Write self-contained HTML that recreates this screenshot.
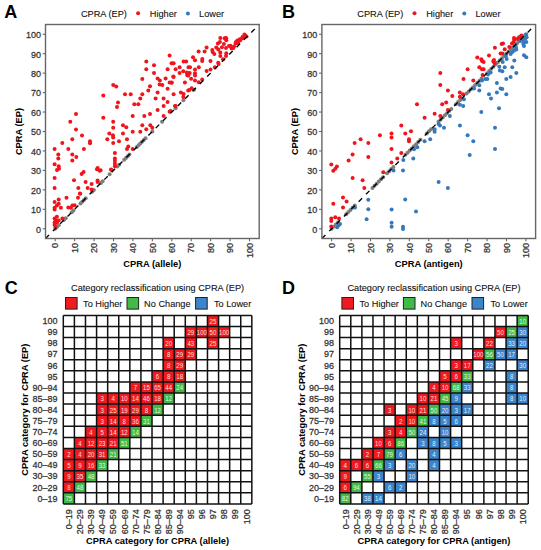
<!DOCTYPE html>
<html><head><meta charset="utf-8"><style>
html,body{margin:0;padding:0;background:#fff;}
body{width:541px;height:550px;overflow:hidden;}
svg{display:block;font-family:"Liberation Sans", sans-serif;}
</style></head><body>
<svg width="541" height="550" viewBox="0 0 541 550">
<rect width="541" height="550" fill="#fff"/>
<text transform="translate(80.9,16.8) scale(1,1.03)" font-size="9.2" fill="#111" stroke="#111" stroke-width="0.1">CPRA (EP)</text>
<circle cx="138.1" cy="13.2" r="2" fill="#f0141c"/>
<text transform="translate(149.8,16.8) scale(1,1.03)" font-size="9.2" fill="#111" stroke="#111" stroke-width="0.1">Higher</text>
<circle cx="187.9" cy="13.4" r="2" fill="#3479bd"/>
<text transform="translate(199.1,16.8) scale(1,1.03)" font-size="9.2" fill="#111" stroke="#111" stroke-width="0.1">Lower</text>
<clipPath id="clip0"><rect x="45.5" y="24.5" width="213.7" height="214"/></clipPath>
<g clip-path="url(#clip0)">
<circle cx="55.21" cy="228.77" r="2.0" fill="#7e7e7e"/>
<circle cx="56.96" cy="227.02" r="2.0" fill="#7e7e7e"/>
<circle cx="58.71" cy="225.27" r="2.0" fill="#7e7e7e"/>
<circle cx="63.96" cy="220.02" r="2.0" fill="#7e7e7e"/>
<circle cx="65.7" cy="218.27" r="2.0" fill="#7e7e7e"/>
<circle cx="71.73" cy="212.24" r="2.0" fill="#7e7e7e"/>
<circle cx="73.47" cy="210.48" r="2.0" fill="#7e7e7e"/>
<circle cx="80.47" cy="203.48" r="2.0" fill="#7e7e7e"/>
<circle cx="82.22" cy="201.73" r="2.0" fill="#7e7e7e"/>
<circle cx="83.97" cy="199.98" r="2.0" fill="#7e7e7e"/>
<circle cx="85.71" cy="198.23" r="2.0" fill="#7e7e7e"/>
<circle cx="92.12" cy="191.81" r="2.0" fill="#7e7e7e"/>
<circle cx="93.87" cy="190.06" r="2.0" fill="#7e7e7e"/>
<circle cx="100.87" cy="183.05" r="2.0" fill="#7e7e7e"/>
<circle cx="102.62" cy="181.3" r="2.0" fill="#7e7e7e"/>
<circle cx="109.61" cy="174.3" r="2.0" fill="#7e7e7e"/>
<circle cx="117.38" cy="166.52" r="2.0" fill="#7e7e7e"/>
<circle cx="119.13" cy="164.77" r="2.0" fill="#7e7e7e"/>
<circle cx="124.18" cy="159.71" r="2.0" fill="#7e7e7e"/>
<circle cx="125.93" cy="157.96" r="2.0" fill="#7e7e7e"/>
<circle cx="127.68" cy="156.21" r="2.0" fill="#7e7e7e"/>
<circle cx="129.42" cy="154.45" r="2.0" fill="#7e7e7e"/>
<circle cx="136.81" cy="147.06" r="2.0" fill="#7e7e7e"/>
<circle cx="138.56" cy="145.31" r="2.0" fill="#7e7e7e"/>
<circle cx="140.3" cy="143.56" r="2.0" fill="#7e7e7e"/>
<circle cx="142.05" cy="141.81" r="2.0" fill="#7e7e7e"/>
<circle cx="143.8" cy="140.06" r="2.0" fill="#7e7e7e"/>
<circle cx="145.55" cy="138.31" r="2.0" fill="#7e7e7e"/>
<circle cx="152.35" cy="131.5" r="2.0" fill="#7e7e7e"/>
<circle cx="162.06" cy="121.77" r="2.0" fill="#7e7e7e"/>
<circle cx="175.66" cy="108.15" r="2.0" fill="#7e7e7e"/>
<circle cx="183.43" cy="100.37" r="2.0" fill="#7e7e7e"/>
<circle cx="194.12" cy="89.67" r="2.0" fill="#7e7e7e"/>
<circle cx="113.2" cy="84.9" r="2.0" fill="#f0141c"/>
<circle cx="116.2" cy="86.6" r="2.0" fill="#f0141c"/>
<circle cx="103.3" cy="95.5" r="2.0" fill="#f0141c"/>
<circle cx="169.6" cy="55.6" r="2.0" fill="#f0141c"/>
<circle cx="146.3" cy="61.5" r="2.0" fill="#f0141c"/>
<circle cx="154" cy="65.3" r="2.0" fill="#f0141c"/>
<circle cx="171.6" cy="63.3" r="2.0" fill="#f0141c"/>
<circle cx="173.6" cy="63.3" r="2.0" fill="#f0141c"/>
<circle cx="183.6" cy="61.5" r="2.0" fill="#f0141c"/>
<circle cx="186.2" cy="61.5" r="2.0" fill="#f0141c"/>
<circle cx="146.3" cy="69.3" r="2.0" fill="#f0141c"/>
<circle cx="167.6" cy="69.3" r="2.0" fill="#f0141c"/>
<circle cx="175.6" cy="69.3" r="2.0" fill="#f0141c"/>
<circle cx="179.6" cy="67.3" r="2.0" fill="#f0141c"/>
<circle cx="188.5" cy="67.3" r="2.0" fill="#f0141c"/>
<circle cx="154" cy="73" r="2.0" fill="#f0141c"/>
<circle cx="179.6" cy="73" r="2.0" fill="#f0141c"/>
<circle cx="183.3" cy="71.3" r="2.0" fill="#f0141c"/>
<circle cx="186.9" cy="72.6" r="2.0" fill="#f0141c"/>
<circle cx="187.3" cy="75.3" r="2.0" fill="#f0141c"/>
<circle cx="142.3" cy="78.9" r="2.0" fill="#f0141c"/>
<circle cx="157.6" cy="78.6" r="2.0" fill="#f0141c"/>
<circle cx="159.9" cy="80.6" r="2.0" fill="#f0141c"/>
<circle cx="165.6" cy="78.6" r="2.0" fill="#f0141c"/>
<circle cx="173.6" cy="77" r="2.0" fill="#f0141c"/>
<circle cx="169.6" cy="82.6" r="2.0" fill="#f0141c"/>
<circle cx="171.6" cy="82.6" r="2.0" fill="#f0141c"/>
<circle cx="184.9" cy="82.6" r="2.0" fill="#f0141c"/>
<circle cx="159.6" cy="84.6" r="2.0" fill="#f0141c"/>
<circle cx="162.3" cy="85" r="2.0" fill="#f0141c"/>
<circle cx="150" cy="86.3" r="2.0" fill="#f0141c"/>
<circle cx="148.3" cy="90.6" r="2.0" fill="#f0141c"/>
<circle cx="167.6" cy="88.8" r="2.0" fill="#f0141c"/>
<circle cx="157.6" cy="92.6" r="2.0" fill="#f0141c"/>
<circle cx="125" cy="94.3" r="2.0" fill="#f0141c"/>
<circle cx="130.7" cy="94.3" r="2.0" fill="#f0141c"/>
<circle cx="142.3" cy="94.3" r="2.0" fill="#f0141c"/>
<circle cx="173.6" cy="94.3" r="2.0" fill="#f0141c"/>
<circle cx="180.9" cy="92.6" r="2.0" fill="#f0141c"/>
<circle cx="183.6" cy="93.9" r="2.0" fill="#f0141c"/>
<circle cx="188.2" cy="90.6" r="2.0" fill="#f0141c"/>
<circle cx="202.2" cy="61.1" r="2.0" fill="#f0141c"/>
<circle cx="210.5" cy="61.1" r="2.0" fill="#f0141c"/>
<circle cx="218.2" cy="62.8" r="2.0" fill="#f0141c"/>
<circle cx="190" cy="67.2" r="2.0" fill="#f0141c"/>
<circle cx="195" cy="69.4" r="2.0" fill="#f0141c"/>
<circle cx="198.8" cy="67.2" r="2.0" fill="#f0141c"/>
<circle cx="206.6" cy="71.1" r="2.0" fill="#f0141c"/>
<circle cx="210.5" cy="69.4" r="2.0" fill="#f0141c"/>
<circle cx="214.9" cy="67.2" r="2.0" fill="#f0141c"/>
<circle cx="173.3" cy="76.6" r="2.0" fill="#f0141c"/>
<circle cx="191.1" cy="78.8" r="2.0" fill="#f0141c"/>
<circle cx="195" cy="80.5" r="2.0" fill="#f0141c"/>
<circle cx="198.8" cy="82.2" r="2.0" fill="#f0141c"/>
<circle cx="202.2" cy="79.4" r="2.0" fill="#f0141c"/>
<circle cx="171.7" cy="82.7" r="2.0" fill="#f0141c"/>
<circle cx="189.4" cy="89.9" r="2.0" fill="#f0141c"/>
<circle cx="191.6" cy="88.3" r="2.0" fill="#f0141c"/>
<circle cx="183.3" cy="97.1" r="2.0" fill="#f0141c"/>
<circle cx="175" cy="106" r="2.0" fill="#f0141c"/>
<circle cx="170.6" cy="111" r="2.0" fill="#f0141c"/>
<circle cx="195" cy="73.3" r="2.0" fill="#f0141c"/>
<circle cx="195" cy="75.5" r="2.0" fill="#f0141c"/>
<circle cx="187.2" cy="73.3" r="2.0" fill="#f0141c"/>
<circle cx="188.3" cy="75.5" r="2.0" fill="#f0141c"/>
<circle cx="195" cy="60.3" r="2.0" fill="#f0141c"/>
<circle cx="218.6" cy="64" r="2.0" fill="#f0141c"/>
<circle cx="189.7" cy="73" r="2.0" fill="#f0141c"/>
<circle cx="220.3" cy="38" r="2.0" fill="#f0141c"/>
<circle cx="224.6" cy="38.3" r="2.0" fill="#f0141c"/>
<circle cx="219.9" cy="42" r="2.0" fill="#f0141c"/>
<circle cx="217.9" cy="43.6" r="2.0" fill="#f0141c"/>
<circle cx="223.9" cy="44" r="2.0" fill="#f0141c"/>
<circle cx="206.6" cy="47.6" r="2.0" fill="#f0141c"/>
<circle cx="216.3" cy="47.6" r="2.0" fill="#f0141c"/>
<circle cx="218.3" cy="49.6" r="2.0" fill="#f0141c"/>
<circle cx="221.9" cy="47.3" r="2.0" fill="#f0141c"/>
<circle cx="198.6" cy="51.6" r="2.0" fill="#f0141c"/>
<circle cx="204.6" cy="51.6" r="2.0" fill="#f0141c"/>
<circle cx="212.3" cy="50" r="2.0" fill="#f0141c"/>
<circle cx="212.6" cy="52" r="2.0" fill="#f0141c"/>
<circle cx="214.3" cy="54" r="2.0" fill="#f0141c"/>
<circle cx="220.3" cy="52.6" r="2.0" fill="#f0141c"/>
<circle cx="220.3" cy="56" r="2.0" fill="#f0141c"/>
<circle cx="193" cy="57.3" r="2.0" fill="#f0141c"/>
<circle cx="202.3" cy="59" r="2.0" fill="#f0141c"/>
<circle cx="223" cy="59.3" r="2.0" fill="#f0141c"/>
<circle cx="229" cy="46" r="2.0" fill="#f0141c"/>
<circle cx="231.5" cy="48.5" r="2.0" fill="#f0141c"/>
<circle cx="234" cy="46.5" r="2.0" fill="#f0141c"/>
<circle cx="236" cy="42" r="2.0" fill="#f0141c"/>
<circle cx="238" cy="43" r="2.0" fill="#f0141c"/>
<circle cx="240" cy="40.5" r="2.0" fill="#f0141c"/>
<circle cx="242" cy="38.5" r="2.0" fill="#f0141c"/>
<circle cx="243.5" cy="37.5" r="2.0" fill="#f0141c"/>
<circle cx="246.5" cy="36.5" r="2.0" fill="#f0141c"/>
<circle cx="230.5" cy="45.7" r="2.0" fill="#f0141c"/>
<circle cx="233.3" cy="48" r="2.0" fill="#f0141c"/>
<circle cx="235.6" cy="43.4" r="2.0" fill="#f0141c"/>
<circle cx="237.4" cy="40.6" r="2.0" fill="#f0141c"/>
<circle cx="239.7" cy="39.2" r="2.0" fill="#f0141c"/>
<circle cx="242.5" cy="36.9" r="2.0" fill="#f0141c"/>
<circle cx="244.4" cy="34.6" r="2.0" fill="#f0141c"/>
<circle cx="245.3" cy="35.5" r="2.0" fill="#f0141c"/>
<circle cx="226.3" cy="38.6" r="2.0" fill="#f0141c"/>
<circle cx="226" cy="48" r="2.0" fill="#f0141c"/>
<circle cx="226.3" cy="53.3" r="2.0" fill="#f0141c"/>
<circle cx="226" cy="56" r="2.0" fill="#f0141c"/>
<circle cx="225.9" cy="37.9" r="2.0" fill="#f0141c"/>
<circle cx="226.3" cy="40.2" r="2.0" fill="#f0141c"/>
<circle cx="140.3" cy="98.4" r="2.0" fill="#f0141c"/>
<circle cx="155.6" cy="98.4" r="2.0" fill="#f0141c"/>
<circle cx="163.6" cy="98.4" r="2.0" fill="#f0141c"/>
<circle cx="118" cy="102.5" r="2.0" fill="#f0141c"/>
<circle cx="117" cy="107" r="2.0" fill="#f0141c"/>
<circle cx="134.3" cy="104.3" r="2.0" fill="#f0141c"/>
<circle cx="138.3" cy="104.3" r="2.0" fill="#f0141c"/>
<circle cx="167.6" cy="102" r="2.0" fill="#f0141c"/>
<circle cx="163.6" cy="106" r="2.0" fill="#f0141c"/>
<circle cx="175.6" cy="106" r="2.0" fill="#f0141c"/>
<circle cx="157.6" cy="110" r="2.0" fill="#f0141c"/>
<circle cx="169.6" cy="111.7" r="2.0" fill="#f0141c"/>
<circle cx="132.7" cy="116" r="2.0" fill="#f0141c"/>
<circle cx="144.3" cy="116" r="2.0" fill="#f0141c"/>
<circle cx="150" cy="114" r="2.0" fill="#f0141c"/>
<circle cx="163.6" cy="116" r="2.0" fill="#f0141c"/>
<circle cx="123" cy="125.3" r="2.0" fill="#f0141c"/>
<circle cx="126.3" cy="127.3" r="2.0" fill="#f0141c"/>
<circle cx="142.3" cy="125.3" r="2.0" fill="#f0141c"/>
<circle cx="150.3" cy="125.3" r="2.0" fill="#f0141c"/>
<circle cx="152.3" cy="127.7" r="2.0" fill="#f0141c"/>
<circle cx="146.3" cy="129.3" r="2.0" fill="#f0141c"/>
<circle cx="132.7" cy="131.7" r="2.0" fill="#f0141c"/>
<circle cx="140.3" cy="131.7" r="2.0" fill="#f0141c"/>
<circle cx="123" cy="133.5" r="2.0" fill="#f0141c"/>
<circle cx="127" cy="139.3" r="2.0" fill="#f0141c"/>
<circle cx="119" cy="141.3" r="2.0" fill="#f0141c"/>
<circle cx="128.3" cy="146.6" r="2.0" fill="#f0141c"/>
<circle cx="127" cy="149" r="2.0" fill="#f0141c"/>
<circle cx="132.7" cy="149" r="2.0" fill="#f0141c"/>
<circle cx="112.9" cy="135.2" r="2.0" fill="#f0141c"/>
<circle cx="114.9" cy="158.5" r="2.0" fill="#f0141c"/>
<circle cx="114.9" cy="161.1" r="2.0" fill="#f0141c"/>
<circle cx="114.9" cy="163.7" r="2.0" fill="#f0141c"/>
<circle cx="114.9" cy="166.3" r="2.0" fill="#f0141c"/>
<circle cx="111" cy="169.5" r="2.0" fill="#f0141c"/>
<circle cx="100.6" cy="170.2" r="2.0" fill="#f0141c"/>
<circle cx="76" cy="114" r="2.0" fill="#f0141c"/>
<circle cx="103.3" cy="117.7" r="2.0" fill="#f0141c"/>
<circle cx="70.3" cy="121.7" r="2.0" fill="#f0141c"/>
<circle cx="113.2" cy="121.7" r="2.0" fill="#f0141c"/>
<circle cx="76" cy="129.6" r="2.0" fill="#f0141c"/>
<circle cx="113.2" cy="127.7" r="2.0" fill="#f0141c"/>
<circle cx="82" cy="135.4" r="2.0" fill="#f0141c"/>
<circle cx="109.3" cy="133.5" r="2.0" fill="#f0141c"/>
<circle cx="113.2" cy="137.5" r="2.0" fill="#f0141c"/>
<circle cx="107.3" cy="139.3" r="2.0" fill="#f0141c"/>
<circle cx="72.3" cy="139.3" r="2.0" fill="#f0141c"/>
<circle cx="62.3" cy="143" r="2.0" fill="#f0141c"/>
<circle cx="90" cy="141.3" r="2.0" fill="#f0141c"/>
<circle cx="90" cy="143.3" r="2.0" fill="#f0141c"/>
<circle cx="113.2" cy="143" r="2.0" fill="#f0141c"/>
<circle cx="54.6" cy="149" r="2.0" fill="#f0141c"/>
<circle cx="68.3" cy="149" r="2.0" fill="#f0141c"/>
<circle cx="83.9" cy="149" r="2.0" fill="#f0141c"/>
<circle cx="114.9" cy="153" r="2.0" fill="#f0141c"/>
<circle cx="58.3" cy="154.6" r="2.0" fill="#f0141c"/>
<circle cx="58.3" cy="158.6" r="2.0" fill="#f0141c"/>
<circle cx="72.3" cy="154.6" r="2.0" fill="#f0141c"/>
<circle cx="76.3" cy="157" r="2.0" fill="#f0141c"/>
<circle cx="72.3" cy="160.6" r="2.0" fill="#f0141c"/>
<circle cx="54.6" cy="164.3" r="2.0" fill="#f0141c"/>
<circle cx="58.7" cy="166.2" r="2.0" fill="#f0141c"/>
<circle cx="97.6" cy="167.9" r="2.0" fill="#f0141c"/>
<circle cx="57" cy="170" r="2.0" fill="#f0141c"/>
<circle cx="59" cy="168.7" r="2.0" fill="#f0141c"/>
<circle cx="97" cy="169.3" r="2.0" fill="#f0141c"/>
<circle cx="99.6" cy="170.7" r="2.0" fill="#f0141c"/>
<circle cx="111.6" cy="170" r="2.0" fill="#f0141c"/>
<circle cx="83.6" cy="172" r="2.0" fill="#f0141c"/>
<circle cx="81.6" cy="174" r="2.0" fill="#f0141c"/>
<circle cx="54.6" cy="178" r="2.0" fill="#f0141c"/>
<circle cx="74" cy="180.3" r="2.0" fill="#f0141c"/>
<circle cx="85.6" cy="182" r="2.0" fill="#f0141c"/>
<circle cx="97.6" cy="180.6" r="2.0" fill="#f0141c"/>
<circle cx="97.6" cy="182" r="2.0" fill="#f0141c"/>
<circle cx="91.6" cy="184" r="2.0" fill="#f0141c"/>
<circle cx="54.6" cy="188" r="2.0" fill="#f0141c"/>
<circle cx="78.3" cy="188" r="2.0" fill="#f0141c"/>
<circle cx="87.6" cy="188" r="2.0" fill="#f0141c"/>
<circle cx="91.6" cy="189.6" r="2.0" fill="#f0141c"/>
<circle cx="79.9" cy="193.6" r="2.0" fill="#f0141c"/>
<circle cx="80.2" cy="193.7" r="2.0" fill="#f0141c"/>
<circle cx="78" cy="197.8" r="2.0" fill="#f0141c"/>
<circle cx="66.5" cy="197.8" r="2.0" fill="#f0141c"/>
<circle cx="58.7" cy="199.6" r="2.0" fill="#f0141c"/>
<circle cx="54.6" cy="201.9" r="2.0" fill="#f0141c"/>
<circle cx="58.7" cy="203.7" r="2.0" fill="#f0141c"/>
<circle cx="56.9" cy="205.6" r="2.0" fill="#f0141c"/>
<circle cx="54.6" cy="207.8" r="2.0" fill="#f0141c"/>
<circle cx="54.6" cy="209.6" r="2.0" fill="#f0141c"/>
<circle cx="60.9" cy="207.8" r="2.0" fill="#f0141c"/>
<circle cx="68.3" cy="207.4" r="2.0" fill="#f0141c"/>
<circle cx="72.4" cy="205.6" r="2.0" fill="#f0141c"/>
<circle cx="74.6" cy="205.2" r="2.0" fill="#f0141c"/>
<circle cx="70.9" cy="207.8" r="2.0" fill="#f0141c"/>
<circle cx="56.9" cy="216.7" r="2.0" fill="#f0141c"/>
<circle cx="54.6" cy="218.5" r="2.0" fill="#f0141c"/>
<circle cx="62.4" cy="218.5" r="2.0" fill="#f0141c"/>
<circle cx="55.7" cy="220.4" r="2.0" fill="#f0141c"/>
<circle cx="54.6" cy="222.6" r="2.0" fill="#f0141c"/>
<circle cx="56.9" cy="222.6" r="2.0" fill="#f0141c"/>
<circle cx="54.6" cy="224.8" r="2.0" fill="#f0141c"/>
<circle cx="55.4" cy="226.7" r="2.0" fill="#f0141c"/>
<circle cx="58.7" cy="220.4" r="2.0" fill="#f0141c"/>
<line x1="45.5" y1="238.5" x2="259.2" y2="24.5" stroke="#000" stroke-width="1.35" stroke-dasharray="4.9 5.5"/>
</g>
<rect x="45.5" y="24.5" width="213.7" height="214" fill="none" stroke="#666666" stroke-width="1.4"/>
<line x1="42.7" y1="228.77" x2="45.5" y2="228.77" stroke="#666666" stroke-width="1.1"/>
<text transform="translate(40.9,232.62) scale(1,1.03)" font-size="9.0" text-anchor="end" fill="#333333" stroke="#333333" stroke-width="0.25">0</text>
<line x1="55.21" y1="238.5" x2="55.21" y2="241.3" stroke="#666666" stroke-width="1.1"/>
<text transform="translate(58.46,243) rotate(-90) scale(1,1.03)" font-size="9.0" text-anchor="end" fill="#333333" stroke="#333333" stroke-width="0.25">0</text>
<line x1="42.7" y1="209.32" x2="45.5" y2="209.32" stroke="#666666" stroke-width="1.1"/>
<text transform="translate(40.9,213.17) scale(1,1.03)" font-size="9.0" text-anchor="end" fill="#333333" stroke="#333333" stroke-width="0.25">10</text>
<line x1="74.64" y1="238.5" x2="74.64" y2="241.3" stroke="#666666" stroke-width="1.1"/>
<text transform="translate(77.89,243) rotate(-90) scale(1,1.03)" font-size="9.0" text-anchor="end" fill="#333333" stroke="#333333" stroke-width="0.25">10</text>
<line x1="42.7" y1="189.86" x2="45.5" y2="189.86" stroke="#666666" stroke-width="1.1"/>
<text transform="translate(40.9,193.71) scale(1,1.03)" font-size="9.0" text-anchor="end" fill="#333333" stroke="#333333" stroke-width="0.25">20</text>
<line x1="94.07" y1="238.5" x2="94.07" y2="241.3" stroke="#666666" stroke-width="1.1"/>
<text transform="translate(97.32,243) rotate(-90) scale(1,1.03)" font-size="9.0" text-anchor="end" fill="#333333" stroke="#333333" stroke-width="0.25">20</text>
<line x1="42.7" y1="170.41" x2="45.5" y2="170.41" stroke="#666666" stroke-width="1.1"/>
<text transform="translate(40.9,174.26) scale(1,1.03)" font-size="9.0" text-anchor="end" fill="#333333" stroke="#333333" stroke-width="0.25">30</text>
<line x1="113.5" y1="238.5" x2="113.5" y2="241.3" stroke="#666666" stroke-width="1.1"/>
<text transform="translate(116.75,243) rotate(-90) scale(1,1.03)" font-size="9.0" text-anchor="end" fill="#333333" stroke="#333333" stroke-width="0.25">30</text>
<line x1="42.7" y1="150.95" x2="45.5" y2="150.95" stroke="#666666" stroke-width="1.1"/>
<text transform="translate(40.9,154.8) scale(1,1.03)" font-size="9.0" text-anchor="end" fill="#333333" stroke="#333333" stroke-width="0.25">40</text>
<line x1="132.92" y1="238.5" x2="132.92" y2="241.3" stroke="#666666" stroke-width="1.1"/>
<text transform="translate(136.17,243) rotate(-90) scale(1,1.03)" font-size="9.0" text-anchor="end" fill="#333333" stroke="#333333" stroke-width="0.25">40</text>
<line x1="42.7" y1="131.5" x2="45.5" y2="131.5" stroke="#666666" stroke-width="1.1"/>
<text transform="translate(40.9,135.35) scale(1,1.03)" font-size="9.0" text-anchor="end" fill="#333333" stroke="#333333" stroke-width="0.25">50</text>
<line x1="152.35" y1="238.5" x2="152.35" y2="241.3" stroke="#666666" stroke-width="1.1"/>
<text transform="translate(155.6,243) rotate(-90) scale(1,1.03)" font-size="9.0" text-anchor="end" fill="#333333" stroke="#333333" stroke-width="0.25">50</text>
<line x1="42.7" y1="112.05" x2="45.5" y2="112.05" stroke="#666666" stroke-width="1.1"/>
<text transform="translate(40.9,115.9) scale(1,1.03)" font-size="9.0" text-anchor="end" fill="#333333" stroke="#333333" stroke-width="0.25">60</text>
<line x1="171.78" y1="238.5" x2="171.78" y2="241.3" stroke="#666666" stroke-width="1.1"/>
<text transform="translate(175.03,243) rotate(-90) scale(1,1.03)" font-size="9.0" text-anchor="end" fill="#333333" stroke="#333333" stroke-width="0.25">60</text>
<line x1="42.7" y1="92.59" x2="45.5" y2="92.59" stroke="#666666" stroke-width="1.1"/>
<text transform="translate(40.9,96.44) scale(1,1.03)" font-size="9.0" text-anchor="end" fill="#333333" stroke="#333333" stroke-width="0.25">70</text>
<line x1="191.2" y1="238.5" x2="191.2" y2="241.3" stroke="#666666" stroke-width="1.1"/>
<text transform="translate(194.45,243) rotate(-90) scale(1,1.03)" font-size="9.0" text-anchor="end" fill="#333333" stroke="#333333" stroke-width="0.25">70</text>
<line x1="42.7" y1="73.14" x2="45.5" y2="73.14" stroke="#666666" stroke-width="1.1"/>
<text transform="translate(40.9,76.99) scale(1,1.03)" font-size="9.0" text-anchor="end" fill="#333333" stroke="#333333" stroke-width="0.25">80</text>
<line x1="210.63" y1="238.5" x2="210.63" y2="241.3" stroke="#666666" stroke-width="1.1"/>
<text transform="translate(213.88,243) rotate(-90) scale(1,1.03)" font-size="9.0" text-anchor="end" fill="#333333" stroke="#333333" stroke-width="0.25">80</text>
<line x1="42.7" y1="53.68" x2="45.5" y2="53.68" stroke="#666666" stroke-width="1.1"/>
<text transform="translate(40.9,57.53) scale(1,1.03)" font-size="9.0" text-anchor="end" fill="#333333" stroke="#333333" stroke-width="0.25">90</text>
<line x1="230.06" y1="238.5" x2="230.06" y2="241.3" stroke="#666666" stroke-width="1.1"/>
<text transform="translate(233.31,243) rotate(-90) scale(1,1.03)" font-size="9.0" text-anchor="end" fill="#333333" stroke="#333333" stroke-width="0.25">90</text>
<line x1="42.7" y1="34.23" x2="45.5" y2="34.23" stroke="#666666" stroke-width="1.1"/>
<text transform="translate(40.9,38.08) scale(1,1.03)" font-size="9.0" text-anchor="end" fill="#333333" stroke="#333333" stroke-width="0.25">100</text>
<line x1="249.49" y1="238.5" x2="249.49" y2="241.3" stroke="#666666" stroke-width="1.1"/>
<text transform="translate(252.74,243) rotate(-90) scale(1,1.03)" font-size="9.0" text-anchor="end" fill="#333333" stroke="#333333" stroke-width="0.25">100</text>
<text transform="translate(152.35,267.2)" font-size="9.3" text-anchor="middle" font-weight="bold" fill="#000">CPRA (allele)</text>
<text transform="translate(21.8,131.5) rotate(-90)" font-size="9.3" text-anchor="middle" font-weight="bold" fill="#000">CPRA (EP)</text>
<text transform="translate(357.3,16.8) scale(1,1.03)" font-size="9.2" fill="#111" stroke="#111" stroke-width="0.1">CPRA (EP)</text>
<circle cx="414.5" cy="13.2" r="2" fill="#f0141c"/>
<text transform="translate(426.2,16.8) scale(1,1.03)" font-size="9.2" fill="#111" stroke="#111" stroke-width="0.1">Higher</text>
<circle cx="464.3" cy="13.4" r="2" fill="#3479bd"/>
<text transform="translate(475.5,16.8) scale(1,1.03)" font-size="9.2" fill="#111" stroke="#111" stroke-width="0.1">Lower</text>
<clipPath id="clip276"><rect x="321.9" y="24.5" width="213.7" height="214"/></clipPath>
<g clip-path="url(#clip276)">
<circle cx="331.61" cy="228.77" r="2.0" fill="#7e7e7e"/>
<circle cx="333.75" cy="226.63" r="2.0" fill="#7e7e7e"/>
<circle cx="335.89" cy="224.49" r="2.0" fill="#7e7e7e"/>
<circle cx="338.02" cy="222.35" r="2.0" fill="#7e7e7e"/>
<circle cx="346.18" cy="214.18" r="2.0" fill="#7e7e7e"/>
<circle cx="348.32" cy="212.04" r="2.0" fill="#7e7e7e"/>
<circle cx="350.46" cy="209.9" r="2.0" fill="#7e7e7e"/>
<circle cx="352.59" cy="207.76" r="2.0" fill="#7e7e7e"/>
<circle cx="354.73" cy="205.62" r="2.0" fill="#7e7e7e"/>
<circle cx="372.41" cy="187.92" r="2.0" fill="#7e7e7e"/>
<circle cx="374.55" cy="185.78" r="2.0" fill="#7e7e7e"/>
<circle cx="376.68" cy="183.64" r="2.0" fill="#7e7e7e"/>
<circle cx="378.82" cy="181.5" r="2.0" fill="#7e7e7e"/>
<circle cx="380.96" cy="179.36" r="2.0" fill="#7e7e7e"/>
<circle cx="383.1" cy="177.22" r="2.0" fill="#7e7e7e"/>
<circle cx="386.98" cy="173.33" r="2.0" fill="#7e7e7e"/>
<circle cx="389.12" cy="171.19" r="2.0" fill="#7e7e7e"/>
<circle cx="391.25" cy="169.05" r="2.0" fill="#7e7e7e"/>
<circle cx="393.39" cy="166.91" r="2.0" fill="#7e7e7e"/>
<circle cx="405.44" cy="154.84" r="2.0" fill="#7e7e7e"/>
<circle cx="407.57" cy="152.7" r="2.0" fill="#7e7e7e"/>
<circle cx="409.71" cy="150.56" r="2.0" fill="#7e7e7e"/>
<circle cx="411.85" cy="148.42" r="2.0" fill="#7e7e7e"/>
<circle cx="413.98" cy="146.28" r="2.0" fill="#7e7e7e"/>
<circle cx="416.12" cy="144.14" r="2.0" fill="#7e7e7e"/>
<circle cx="418.26" cy="142" r="2.0" fill="#7e7e7e"/>
<circle cx="420.39" cy="139.86" r="2.0" fill="#7e7e7e"/>
<circle cx="426.81" cy="133.44" r="2.0" fill="#7e7e7e"/>
<circle cx="428.94" cy="131.3" r="2.0" fill="#7e7e7e"/>
<circle cx="431.08" cy="129.16" r="2.0" fill="#7e7e7e"/>
<circle cx="438.46" cy="121.77" r="2.0" fill="#7e7e7e"/>
<circle cx="440.6" cy="119.63" r="2.0" fill="#7e7e7e"/>
<circle cx="442.74" cy="117.49" r="2.0" fill="#7e7e7e"/>
<circle cx="444.87" cy="115.35" r="2.0" fill="#7e7e7e"/>
<circle cx="447.01" cy="113.21" r="2.0" fill="#7e7e7e"/>
<circle cx="449.15" cy="111.07" r="2.0" fill="#7e7e7e"/>
<circle cx="451.28" cy="108.93" r="2.0" fill="#7e7e7e"/>
<circle cx="455.95" cy="104.26" r="2.0" fill="#7e7e7e"/>
<circle cx="458.08" cy="102.12" r="2.0" fill="#7e7e7e"/>
<circle cx="460.22" cy="99.98" r="2.0" fill="#7e7e7e"/>
<circle cx="466.63" cy="93.56" r="2.0" fill="#7e7e7e"/>
<circle cx="468.77" cy="91.42" r="2.0" fill="#7e7e7e"/>
<circle cx="470.91" cy="89.28" r="2.0" fill="#7e7e7e"/>
<circle cx="473.04" cy="87.14" r="2.0" fill="#7e7e7e"/>
<circle cx="475.18" cy="85" r="2.0" fill="#7e7e7e"/>
<circle cx="477.32" cy="82.86" r="2.0" fill="#7e7e7e"/>
<circle cx="479.45" cy="80.72" r="2.0" fill="#7e7e7e"/>
<circle cx="481.59" cy="78.58" r="2.0" fill="#7e7e7e"/>
<circle cx="487.03" cy="73.13" r="2.0" fill="#7e7e7e"/>
<circle cx="489.17" cy="70.99" r="2.0" fill="#7e7e7e"/>
<circle cx="491.3" cy="68.85" r="2.0" fill="#7e7e7e"/>
<circle cx="493.44" cy="66.71" r="2.0" fill="#7e7e7e"/>
<circle cx="495.58" cy="64.57" r="2.0" fill="#7e7e7e"/>
<circle cx="497.71" cy="62.43" r="2.0" fill="#7e7e7e"/>
<circle cx="499.85" cy="60.29" r="2.0" fill="#7e7e7e"/>
<circle cx="501.99" cy="58.15" r="2.0" fill="#7e7e7e"/>
<circle cx="504.13" cy="56.01" r="2.0" fill="#7e7e7e"/>
<circle cx="506.26" cy="53.87" r="2.0" fill="#7e7e7e"/>
<circle cx="508.4" cy="51.73" r="2.0" fill="#7e7e7e"/>
<circle cx="510.54" cy="49.59" r="2.0" fill="#7e7e7e"/>
<circle cx="512.67" cy="47.45" r="2.0" fill="#7e7e7e"/>
<circle cx="514.81" cy="45.31" r="2.0" fill="#7e7e7e"/>
<circle cx="516.95" cy="43.17" r="2.0" fill="#7e7e7e"/>
<circle cx="519.08" cy="41.03" r="2.0" fill="#7e7e7e"/>
<circle cx="521.22" cy="38.89" r="2.0" fill="#7e7e7e"/>
<circle cx="523.36" cy="36.75" r="2.0" fill="#7e7e7e"/>
<circle cx="525.49" cy="34.61" r="2.0" fill="#7e7e7e"/>
<circle cx="526.3" cy="34.6" r="2.0" fill="#3479bd"/>
<circle cx="526.6" cy="37.3" r="2.0" fill="#3479bd"/>
<circle cx="525.3" cy="38.6" r="2.0" fill="#3479bd"/>
<circle cx="522.6" cy="40" r="2.0" fill="#3479bd"/>
<circle cx="520.3" cy="41" r="2.0" fill="#3479bd"/>
<circle cx="524" cy="42" r="2.0" fill="#3479bd"/>
<circle cx="526.3" cy="42" r="2.0" fill="#3479bd"/>
<circle cx="523.3" cy="44" r="2.0" fill="#3479bd"/>
<circle cx="524" cy="46" r="2.0" fill="#3479bd"/>
<circle cx="516" cy="47" r="2.0" fill="#3479bd"/>
<circle cx="516.3" cy="49.6" r="2.0" fill="#3479bd"/>
<circle cx="514" cy="50.6" r="2.0" fill="#3479bd"/>
<circle cx="512.3" cy="52" r="2.0" fill="#3479bd"/>
<circle cx="510.6" cy="54" r="2.0" fill="#3479bd"/>
<circle cx="524" cy="55.3" r="2.0" fill="#3479bd"/>
<circle cx="526.3" cy="57.3" r="2.0" fill="#3479bd"/>
<circle cx="506" cy="56" r="2.0" fill="#3479bd"/>
<circle cx="506.7" cy="59" r="2.0" fill="#3479bd"/>
<circle cx="514.3" cy="60.5" r="2.0" fill="#3479bd"/>
<circle cx="499.3" cy="66.7" r="2.0" fill="#3479bd"/>
<circle cx="499.9" cy="70.6" r="2.0" fill="#3479bd"/>
<circle cx="490.6" cy="72.6" r="2.0" fill="#3479bd"/>
<circle cx="488" cy="74.6" r="2.0" fill="#3479bd"/>
<circle cx="485.3" cy="79" r="2.0" fill="#3479bd"/>
<circle cx="487.3" cy="79" r="2.0" fill="#3479bd"/>
<circle cx="482" cy="80.6" r="2.0" fill="#3479bd"/>
<circle cx="479.3" cy="85.3" r="2.0" fill="#3479bd"/>
<circle cx="474" cy="88.6" r="2.0" fill="#3479bd"/>
<circle cx="479.3" cy="90.6" r="2.0" fill="#3479bd"/>
<circle cx="496.9" cy="83" r="2.0" fill="#3479bd"/>
<circle cx="500.6" cy="88.6" r="2.0" fill="#3479bd"/>
<circle cx="496.9" cy="92.6" r="2.0" fill="#3479bd"/>
<circle cx="489" cy="94.3" r="2.0" fill="#3479bd"/>
<circle cx="502.7" cy="62" r="2.0" fill="#3479bd"/>
<circle cx="504.7" cy="67.3" r="2.0" fill="#3479bd"/>
<circle cx="512.3" cy="67.3" r="2.0" fill="#3479bd"/>
<circle cx="516.3" cy="73" r="2.0" fill="#3479bd"/>
<circle cx="510.6" cy="77" r="2.0" fill="#3479bd"/>
<circle cx="506.3" cy="79" r="2.0" fill="#3479bd"/>
<circle cx="502.3" cy="71.3" r="2.0" fill="#3479bd"/>
<circle cx="502.3" cy="89" r="2.0" fill="#3479bd"/>
<circle cx="506.3" cy="94.3" r="2.0" fill="#3479bd"/>
<circle cx="459.9" cy="104.7" r="2.0" fill="#3479bd"/>
<circle cx="463.2" cy="106" r="2.0" fill="#3479bd"/>
<circle cx="463.9" cy="99.3" r="2.0" fill="#3479bd"/>
<circle cx="449.9" cy="116" r="2.0" fill="#3479bd"/>
<circle cx="459.9" cy="125.6" r="2.0" fill="#3479bd"/>
<circle cx="438.6" cy="124" r="2.0" fill="#3479bd"/>
<circle cx="440" cy="125.6" r="2.0" fill="#3479bd"/>
<circle cx="444" cy="127.7" r="2.0" fill="#3479bd"/>
<circle cx="434.6" cy="129.3" r="2.0" fill="#3479bd"/>
<circle cx="434.6" cy="131.7" r="2.0" fill="#3479bd"/>
<circle cx="430.2" cy="139.3" r="2.0" fill="#3479bd"/>
<circle cx="424.6" cy="141.3" r="2.0" fill="#3479bd"/>
<circle cx="417.3" cy="147.3" r="2.0" fill="#3479bd"/>
<circle cx="414" cy="149.3" r="2.0" fill="#3479bd"/>
<circle cx="413.3" cy="158.6" r="2.0" fill="#3479bd"/>
<circle cx="403.3" cy="160" r="2.0" fill="#3479bd"/>
<circle cx="491" cy="98.4" r="2.0" fill="#3479bd"/>
<circle cx="499" cy="108.3" r="2.0" fill="#3479bd"/>
<circle cx="481.3" cy="112" r="2.0" fill="#3479bd"/>
<circle cx="495" cy="127.7" r="2.0" fill="#3479bd"/>
<circle cx="467.6" cy="135.3" r="2.0" fill="#3479bd"/>
<circle cx="473.3" cy="141.3" r="2.0" fill="#3479bd"/>
<circle cx="495" cy="149" r="2.0" fill="#3479bd"/>
<circle cx="469.7" cy="154.9" r="2.0" fill="#3479bd"/>
<circle cx="368.3" cy="199.7" r="2.0" fill="#3479bd"/>
<circle cx="368.3" cy="209.3" r="2.0" fill="#3479bd"/>
<circle cx="355" cy="207.4" r="2.0" fill="#3479bd"/>
<circle cx="366.6" cy="219.3" r="2.0" fill="#3479bd"/>
<circle cx="391.6" cy="209.4" r="2.0" fill="#3479bd"/>
<circle cx="391.6" cy="222.8" r="2.0" fill="#3479bd"/>
<circle cx="391.6" cy="226.8" r="2.0" fill="#3479bd"/>
<circle cx="338.6" cy="225.2" r="2.0" fill="#3479bd"/>
<circle cx="337.2" cy="227.2" r="2.0" fill="#3479bd"/>
<circle cx="340" cy="224" r="2.0" fill="#3479bd"/>
<circle cx="393.5" cy="170.5" r="2.0" fill="#3479bd"/>
<circle cx="403" cy="170.5" r="2.0" fill="#3479bd"/>
<circle cx="438.6" cy="182" r="2.0" fill="#3479bd"/>
<circle cx="447.9" cy="188" r="2.0" fill="#3479bd"/>
<circle cx="405.2" cy="199.6" r="2.0" fill="#3479bd"/>
<circle cx="416" cy="211.4" r="2.0" fill="#3479bd"/>
<circle cx="403" cy="226.8" r="2.0" fill="#3479bd"/>
<circle cx="403" cy="229.1" r="2.0" fill="#3479bd"/>
<circle cx="440.3" cy="73" r="2.0" fill="#f0141c"/>
<circle cx="440.3" cy="85" r="2.0" fill="#f0141c"/>
<circle cx="447.9" cy="90.6" r="2.0" fill="#f0141c"/>
<circle cx="452.3" cy="96" r="2.0" fill="#f0141c"/>
<circle cx="463.5" cy="78.9" r="2.0" fill="#f0141c"/>
<circle cx="467.6" cy="69.2" r="2.0" fill="#f0141c"/>
<circle cx="459.8" cy="92.6" r="2.0" fill="#f0141c"/>
<circle cx="463" cy="94.3" r="2.0" fill="#f0141c"/>
<circle cx="459.9" cy="96.7" r="2.0" fill="#f0141c"/>
<circle cx="514" cy="38" r="2.0" fill="#f0141c"/>
<circle cx="514.3" cy="39.6" r="2.0" fill="#f0141c"/>
<circle cx="517.3" cy="39" r="2.0" fill="#f0141c"/>
<circle cx="519" cy="37.3" r="2.0" fill="#f0141c"/>
<circle cx="521.3" cy="35.6" r="2.0" fill="#f0141c"/>
<circle cx="512" cy="43.6" r="2.0" fill="#f0141c"/>
<circle cx="513.6" cy="42" r="2.0" fill="#f0141c"/>
<circle cx="509.3" cy="47" r="2.0" fill="#f0141c"/>
<circle cx="503" cy="43.6" r="2.0" fill="#f0141c"/>
<circle cx="504.7" cy="49.3" r="2.0" fill="#f0141c"/>
<circle cx="502.3" cy="53.6" r="2.0" fill="#f0141c"/>
<circle cx="494.9" cy="47.8" r="2.0" fill="#f0141c"/>
<circle cx="501.6" cy="44" r="2.0" fill="#f0141c"/>
<circle cx="500.6" cy="53.6" r="2.0" fill="#f0141c"/>
<circle cx="489" cy="55.6" r="2.0" fill="#f0141c"/>
<circle cx="477.3" cy="57.6" r="2.0" fill="#f0141c"/>
<circle cx="481.3" cy="59.3" r="2.0" fill="#f0141c"/>
<circle cx="494" cy="60" r="2.0" fill="#f0141c"/>
<circle cx="482" cy="61" r="2.0" fill="#f0141c"/>
<circle cx="483.6" cy="62" r="2.0" fill="#f0141c"/>
<circle cx="493.3" cy="61.3" r="2.0" fill="#f0141c"/>
<circle cx="494.6" cy="63.3" r="2.0" fill="#f0141c"/>
<circle cx="479.3" cy="67.3" r="2.0" fill="#f0141c"/>
<circle cx="482" cy="69.3" r="2.0" fill="#f0141c"/>
<circle cx="483.6" cy="69.3" r="2.0" fill="#f0141c"/>
<circle cx="482.6" cy="75" r="2.0" fill="#f0141c"/>
<circle cx="473.3" cy="80.6" r="2.0" fill="#f0141c"/>
<circle cx="379.9" cy="135.3" r="2.0" fill="#f0141c"/>
<circle cx="391.5" cy="133.5" r="2.0" fill="#f0141c"/>
<circle cx="391.5" cy="137.5" r="2.0" fill="#f0141c"/>
<circle cx="360.6" cy="139.3" r="2.0" fill="#f0141c"/>
<circle cx="354.6" cy="143" r="2.0" fill="#f0141c"/>
<circle cx="368.3" cy="143" r="2.0" fill="#f0141c"/>
<circle cx="391.5" cy="149" r="2.0" fill="#f0141c"/>
<circle cx="352.6" cy="154.6" r="2.0" fill="#f0141c"/>
<circle cx="368.3" cy="157" r="2.0" fill="#f0141c"/>
<circle cx="348.6" cy="160.6" r="2.0" fill="#f0141c"/>
<circle cx="331.3" cy="164.6" r="2.0" fill="#f0141c"/>
<circle cx="336.9" cy="166.6" r="2.0" fill="#f0141c"/>
<circle cx="391.5" cy="162.6" r="2.0" fill="#f0141c"/>
<circle cx="417" cy="104.3" r="2.0" fill="#f0141c"/>
<circle cx="442.2" cy="104.3" r="2.0" fill="#f0141c"/>
<circle cx="446.2" cy="102.4" r="2.0" fill="#f0141c"/>
<circle cx="447.9" cy="110" r="2.0" fill="#f0141c"/>
<circle cx="434.6" cy="113.7" r="2.0" fill="#f0141c"/>
<circle cx="440.3" cy="116" r="2.0" fill="#f0141c"/>
<circle cx="424.6" cy="117.7" r="2.0" fill="#f0141c"/>
<circle cx="401.3" cy="125.6" r="2.0" fill="#f0141c"/>
<circle cx="411" cy="131.3" r="2.0" fill="#f0141c"/>
<circle cx="405.3" cy="133.5" r="2.0" fill="#f0141c"/>
<circle cx="409" cy="139.3" r="2.0" fill="#f0141c"/>
<circle cx="409" cy="141.3" r="2.0" fill="#f0141c"/>
<circle cx="401.3" cy="153" r="2.0" fill="#f0141c"/>
<circle cx="397.3" cy="158.6" r="2.0" fill="#f0141c"/>
<circle cx="333.3" cy="170.7" r="2.0" fill="#f0141c"/>
<circle cx="335.3" cy="168.7" r="2.0" fill="#f0141c"/>
<circle cx="352.6" cy="178" r="2.0" fill="#f0141c"/>
<circle cx="362.6" cy="180.3" r="2.0" fill="#f0141c"/>
<circle cx="364.3" cy="188" r="2.0" fill="#f0141c"/>
<circle cx="383.3" cy="172.3" r="2.0" fill="#f0141c"/>
<circle cx="343" cy="197.6" r="2.0" fill="#f0141c"/>
<circle cx="346.6" cy="201.6" r="2.0" fill="#f0141c"/>
<circle cx="333.3" cy="203.7" r="2.0" fill="#f0141c"/>
<circle cx="343" cy="207.4" r="2.0" fill="#f0141c"/>
<circle cx="331.3" cy="218.6" r="2.0" fill="#f0141c"/>
<circle cx="331.3" cy="221" r="2.0" fill="#f0141c"/>
<circle cx="335.3" cy="217.3" r="2.0" fill="#f0141c"/>
<circle cx="339" cy="218.6" r="2.0" fill="#f0141c"/>
<circle cx="331.3" cy="226.6" r="2.0" fill="#f0141c"/>
<line x1="321.9" y1="238.5" x2="535.6" y2="24.5" stroke="#000" stroke-width="1.35" stroke-dasharray="4.9 5.5"/>
</g>
<rect x="321.9" y="24.5" width="213.7" height="214" fill="none" stroke="#666666" stroke-width="1.4"/>
<line x1="319.1" y1="228.77" x2="321.9" y2="228.77" stroke="#666666" stroke-width="1.1"/>
<text transform="translate(317.3,232.62) scale(1,1.03)" font-size="9.0" text-anchor="end" fill="#333333" stroke="#333333" stroke-width="0.25">0</text>
<line x1="331.61" y1="238.5" x2="331.61" y2="241.3" stroke="#666666" stroke-width="1.1"/>
<text transform="translate(334.86,243) rotate(-90) scale(1,1.03)" font-size="9.0" text-anchor="end" fill="#333333" stroke="#333333" stroke-width="0.25">0</text>
<line x1="319.1" y1="209.32" x2="321.9" y2="209.32" stroke="#666666" stroke-width="1.1"/>
<text transform="translate(317.3,213.17) scale(1,1.03)" font-size="9.0" text-anchor="end" fill="#333333" stroke="#333333" stroke-width="0.25">10</text>
<line x1="351.04" y1="238.5" x2="351.04" y2="241.3" stroke="#666666" stroke-width="1.1"/>
<text transform="translate(354.29,243) rotate(-90) scale(1,1.03)" font-size="9.0" text-anchor="end" fill="#333333" stroke="#333333" stroke-width="0.25">10</text>
<line x1="319.1" y1="189.86" x2="321.9" y2="189.86" stroke="#666666" stroke-width="1.1"/>
<text transform="translate(317.3,193.71) scale(1,1.03)" font-size="9.0" text-anchor="end" fill="#333333" stroke="#333333" stroke-width="0.25">20</text>
<line x1="370.47" y1="238.5" x2="370.47" y2="241.3" stroke="#666666" stroke-width="1.1"/>
<text transform="translate(373.72,243) rotate(-90) scale(1,1.03)" font-size="9.0" text-anchor="end" fill="#333333" stroke="#333333" stroke-width="0.25">20</text>
<line x1="319.1" y1="170.41" x2="321.9" y2="170.41" stroke="#666666" stroke-width="1.1"/>
<text transform="translate(317.3,174.26) scale(1,1.03)" font-size="9.0" text-anchor="end" fill="#333333" stroke="#333333" stroke-width="0.25">30</text>
<line x1="389.9" y1="238.5" x2="389.9" y2="241.3" stroke="#666666" stroke-width="1.1"/>
<text transform="translate(393.15,243) rotate(-90) scale(1,1.03)" font-size="9.0" text-anchor="end" fill="#333333" stroke="#333333" stroke-width="0.25">30</text>
<line x1="319.1" y1="150.95" x2="321.9" y2="150.95" stroke="#666666" stroke-width="1.1"/>
<text transform="translate(317.3,154.8) scale(1,1.03)" font-size="9.0" text-anchor="end" fill="#333333" stroke="#333333" stroke-width="0.25">40</text>
<line x1="409.32" y1="238.5" x2="409.32" y2="241.3" stroke="#666666" stroke-width="1.1"/>
<text transform="translate(412.57,243) rotate(-90) scale(1,1.03)" font-size="9.0" text-anchor="end" fill="#333333" stroke="#333333" stroke-width="0.25">40</text>
<line x1="319.1" y1="131.5" x2="321.9" y2="131.5" stroke="#666666" stroke-width="1.1"/>
<text transform="translate(317.3,135.35) scale(1,1.03)" font-size="9.0" text-anchor="end" fill="#333333" stroke="#333333" stroke-width="0.25">50</text>
<line x1="428.75" y1="238.5" x2="428.75" y2="241.3" stroke="#666666" stroke-width="1.1"/>
<text transform="translate(432,243) rotate(-90) scale(1,1.03)" font-size="9.0" text-anchor="end" fill="#333333" stroke="#333333" stroke-width="0.25">50</text>
<line x1="319.1" y1="112.05" x2="321.9" y2="112.05" stroke="#666666" stroke-width="1.1"/>
<text transform="translate(317.3,115.9) scale(1,1.03)" font-size="9.0" text-anchor="end" fill="#333333" stroke="#333333" stroke-width="0.25">60</text>
<line x1="448.18" y1="238.5" x2="448.18" y2="241.3" stroke="#666666" stroke-width="1.1"/>
<text transform="translate(451.43,243) rotate(-90) scale(1,1.03)" font-size="9.0" text-anchor="end" fill="#333333" stroke="#333333" stroke-width="0.25">60</text>
<line x1="319.1" y1="92.59" x2="321.9" y2="92.59" stroke="#666666" stroke-width="1.1"/>
<text transform="translate(317.3,96.44) scale(1,1.03)" font-size="9.0" text-anchor="end" fill="#333333" stroke="#333333" stroke-width="0.25">70</text>
<line x1="467.6" y1="238.5" x2="467.6" y2="241.3" stroke="#666666" stroke-width="1.1"/>
<text transform="translate(470.85,243) rotate(-90) scale(1,1.03)" font-size="9.0" text-anchor="end" fill="#333333" stroke="#333333" stroke-width="0.25">70</text>
<line x1="319.1" y1="73.14" x2="321.9" y2="73.14" stroke="#666666" stroke-width="1.1"/>
<text transform="translate(317.3,76.99) scale(1,1.03)" font-size="9.0" text-anchor="end" fill="#333333" stroke="#333333" stroke-width="0.25">80</text>
<line x1="487.03" y1="238.5" x2="487.03" y2="241.3" stroke="#666666" stroke-width="1.1"/>
<text transform="translate(490.28,243) rotate(-90) scale(1,1.03)" font-size="9.0" text-anchor="end" fill="#333333" stroke="#333333" stroke-width="0.25">80</text>
<line x1="319.1" y1="53.68" x2="321.9" y2="53.68" stroke="#666666" stroke-width="1.1"/>
<text transform="translate(317.3,57.53) scale(1,1.03)" font-size="9.0" text-anchor="end" fill="#333333" stroke="#333333" stroke-width="0.25">90</text>
<line x1="506.46" y1="238.5" x2="506.46" y2="241.3" stroke="#666666" stroke-width="1.1"/>
<text transform="translate(509.71,243) rotate(-90) scale(1,1.03)" font-size="9.0" text-anchor="end" fill="#333333" stroke="#333333" stroke-width="0.25">90</text>
<line x1="319.1" y1="34.23" x2="321.9" y2="34.23" stroke="#666666" stroke-width="1.1"/>
<text transform="translate(317.3,38.08) scale(1,1.03)" font-size="9.0" text-anchor="end" fill="#333333" stroke="#333333" stroke-width="0.25">100</text>
<line x1="525.89" y1="238.5" x2="525.89" y2="241.3" stroke="#666666" stroke-width="1.1"/>
<text transform="translate(529.14,243) rotate(-90) scale(1,1.03)" font-size="9.0" text-anchor="end" fill="#333333" stroke="#333333" stroke-width="0.25">100</text>
<text transform="translate(428.75,267.2)" font-size="9.3" text-anchor="middle" font-weight="bold" fill="#000">CPRA (antigen)</text>
<text transform="translate(298.2,131.5) rotate(-90)" font-size="9.3" text-anchor="middle" font-weight="bold" fill="#000">CPRA (EP)</text>
<text transform="translate(157.56,291.3) scale(1,1.03)" font-size="9.2" text-anchor="middle" fill="#111" stroke="#111" stroke-width="0.1">Category reclassification using CPRA (EP)</text>
<rect x="65.5" y="297.5" width="11.6" height="11.6" fill="#f01b20" stroke="#222" stroke-width="1"/>
<text transform="translate(83.1,306.8) scale(1,1.03)" font-size="9.2" fill="#111" stroke="#111" stroke-width="0.1">To Higher</text>
<rect x="127" y="297.5" width="11.6" height="11.6" fill="#42ba48" stroke="#222" stroke-width="1"/>
<text transform="translate(144.1,306.8) scale(1,1.03)" font-size="9.2" fill="#111" stroke="#111" stroke-width="0.1">No Change</text>
<rect x="195.6" y="297.5" width="11.6" height="11.6" fill="#3c85cc" stroke="#222" stroke-width="1"/>
<text transform="translate(214,306.8) scale(1,1.03)" font-size="9.2" fill="#111" stroke="#111" stroke-width="0.1">To Lower</text>
<rect x="63.3" y="315.4" width="11.09" height="11.09" fill="#fff"/>
<rect x="74.39" y="315.4" width="11.09" height="11.09" fill="#fff"/>
<rect x="85.48" y="315.4" width="11.09" height="11.09" fill="#fff"/>
<rect x="96.57" y="315.4" width="11.09" height="11.09" fill="#fff"/>
<rect x="107.66" y="315.4" width="11.09" height="11.09" fill="#fff"/>
<rect x="118.75" y="315.4" width="11.09" height="11.09" fill="#fff"/>
<rect x="129.84" y="315.4" width="11.09" height="11.09" fill="#fff"/>
<rect x="140.93" y="315.4" width="11.09" height="11.09" fill="#fff"/>
<rect x="152.02" y="315.4" width="11.09" height="11.09" fill="#fff"/>
<rect x="163.11" y="315.4" width="11.09" height="11.09" fill="#fff"/>
<rect x="174.2" y="315.4" width="11.09" height="11.09" fill="#fff"/>
<rect x="185.29" y="315.4" width="11.09" height="11.09" fill="#fff"/>
<rect x="196.38" y="315.4" width="11.09" height="11.09" fill="#fff"/>
<rect x="207.47" y="315.4" width="11.09" height="11.09" fill="#f01b20"/>
<rect x="218.56" y="315.4" width="11.09" height="11.09" fill="#fff"/>
<rect x="229.65" y="315.4" width="11.09" height="11.09" fill="#fff"/>
<rect x="240.74" y="315.4" width="11.09" height="11.09" fill="#fff"/>
<rect x="63.3" y="326.49" width="11.09" height="11.09" fill="#fff"/>
<rect x="74.39" y="326.49" width="11.09" height="11.09" fill="#fff"/>
<rect x="85.48" y="326.49" width="11.09" height="11.09" fill="#fff"/>
<rect x="96.57" y="326.49" width="11.09" height="11.09" fill="#fff"/>
<rect x="107.66" y="326.49" width="11.09" height="11.09" fill="#fff"/>
<rect x="118.75" y="326.49" width="11.09" height="11.09" fill="#fff"/>
<rect x="129.84" y="326.49" width="11.09" height="11.09" fill="#fff"/>
<rect x="140.93" y="326.49" width="11.09" height="11.09" fill="#fff"/>
<rect x="152.02" y="326.49" width="11.09" height="11.09" fill="#fff"/>
<rect x="163.11" y="326.49" width="11.09" height="11.09" fill="#fff"/>
<rect x="174.2" y="326.49" width="11.09" height="11.09" fill="#fff"/>
<rect x="185.29" y="326.49" width="11.09" height="11.09" fill="#f01b20"/>
<rect x="196.38" y="326.49" width="11.09" height="11.09" fill="#f01b20"/>
<rect x="207.47" y="326.49" width="11.09" height="11.09" fill="#f01b20"/>
<rect x="218.56" y="326.49" width="11.09" height="11.09" fill="#f01b20"/>
<rect x="229.65" y="326.49" width="11.09" height="11.09" fill="#fff"/>
<rect x="240.74" y="326.49" width="11.09" height="11.09" fill="#fff"/>
<rect x="63.3" y="337.58" width="11.09" height="11.09" fill="#fff"/>
<rect x="74.39" y="337.58" width="11.09" height="11.09" fill="#fff"/>
<rect x="85.48" y="337.58" width="11.09" height="11.09" fill="#fff"/>
<rect x="96.57" y="337.58" width="11.09" height="11.09" fill="#fff"/>
<rect x="107.66" y="337.58" width="11.09" height="11.09" fill="#fff"/>
<rect x="118.75" y="337.58" width="11.09" height="11.09" fill="#fff"/>
<rect x="129.84" y="337.58" width="11.09" height="11.09" fill="#fff"/>
<rect x="140.93" y="337.58" width="11.09" height="11.09" fill="#fff"/>
<rect x="152.02" y="337.58" width="11.09" height="11.09" fill="#fff"/>
<rect x="163.11" y="337.58" width="11.09" height="11.09" fill="#f01b20"/>
<rect x="174.2" y="337.58" width="11.09" height="11.09" fill="#fff"/>
<rect x="185.29" y="337.58" width="11.09" height="11.09" fill="#f01b20"/>
<rect x="196.38" y="337.58" width="11.09" height="11.09" fill="#fff"/>
<rect x="207.47" y="337.58" width="11.09" height="11.09" fill="#f01b20"/>
<rect x="218.56" y="337.58" width="11.09" height="11.09" fill="#fff"/>
<rect x="229.65" y="337.58" width="11.09" height="11.09" fill="#fff"/>
<rect x="240.74" y="337.58" width="11.09" height="11.09" fill="#fff"/>
<rect x="63.3" y="348.67" width="11.09" height="11.09" fill="#fff"/>
<rect x="74.39" y="348.67" width="11.09" height="11.09" fill="#fff"/>
<rect x="85.48" y="348.67" width="11.09" height="11.09" fill="#fff"/>
<rect x="96.57" y="348.67" width="11.09" height="11.09" fill="#fff"/>
<rect x="107.66" y="348.67" width="11.09" height="11.09" fill="#fff"/>
<rect x="118.75" y="348.67" width="11.09" height="11.09" fill="#fff"/>
<rect x="129.84" y="348.67" width="11.09" height="11.09" fill="#fff"/>
<rect x="140.93" y="348.67" width="11.09" height="11.09" fill="#fff"/>
<rect x="152.02" y="348.67" width="11.09" height="11.09" fill="#fff"/>
<rect x="163.11" y="348.67" width="11.09" height="11.09" fill="#f01b20"/>
<rect x="174.2" y="348.67" width="11.09" height="11.09" fill="#f01b20"/>
<rect x="185.29" y="348.67" width="11.09" height="11.09" fill="#f01b20"/>
<rect x="196.38" y="348.67" width="11.09" height="11.09" fill="#fff"/>
<rect x="207.47" y="348.67" width="11.09" height="11.09" fill="#fff"/>
<rect x="218.56" y="348.67" width="11.09" height="11.09" fill="#fff"/>
<rect x="229.65" y="348.67" width="11.09" height="11.09" fill="#fff"/>
<rect x="240.74" y="348.67" width="11.09" height="11.09" fill="#fff"/>
<rect x="63.3" y="359.76" width="11.09" height="11.09" fill="#fff"/>
<rect x="74.39" y="359.76" width="11.09" height="11.09" fill="#fff"/>
<rect x="85.48" y="359.76" width="11.09" height="11.09" fill="#fff"/>
<rect x="96.57" y="359.76" width="11.09" height="11.09" fill="#fff"/>
<rect x="107.66" y="359.76" width="11.09" height="11.09" fill="#fff"/>
<rect x="118.75" y="359.76" width="11.09" height="11.09" fill="#fff"/>
<rect x="129.84" y="359.76" width="11.09" height="11.09" fill="#fff"/>
<rect x="140.93" y="359.76" width="11.09" height="11.09" fill="#fff"/>
<rect x="152.02" y="359.76" width="11.09" height="11.09" fill="#fff"/>
<rect x="163.11" y="359.76" width="11.09" height="11.09" fill="#f01b20"/>
<rect x="174.2" y="359.76" width="11.09" height="11.09" fill="#f01b20"/>
<rect x="185.29" y="359.76" width="11.09" height="11.09" fill="#fff"/>
<rect x="196.38" y="359.76" width="11.09" height="11.09" fill="#fff"/>
<rect x="207.47" y="359.76" width="11.09" height="11.09" fill="#fff"/>
<rect x="218.56" y="359.76" width="11.09" height="11.09" fill="#fff"/>
<rect x="229.65" y="359.76" width="11.09" height="11.09" fill="#fff"/>
<rect x="240.74" y="359.76" width="11.09" height="11.09" fill="#fff"/>
<rect x="63.3" y="370.85" width="11.09" height="11.09" fill="#fff"/>
<rect x="74.39" y="370.85" width="11.09" height="11.09" fill="#fff"/>
<rect x="85.48" y="370.85" width="11.09" height="11.09" fill="#fff"/>
<rect x="96.57" y="370.85" width="11.09" height="11.09" fill="#fff"/>
<rect x="107.66" y="370.85" width="11.09" height="11.09" fill="#fff"/>
<rect x="118.75" y="370.85" width="11.09" height="11.09" fill="#fff"/>
<rect x="129.84" y="370.85" width="11.09" height="11.09" fill="#fff"/>
<rect x="140.93" y="370.85" width="11.09" height="11.09" fill="#fff"/>
<rect x="152.02" y="370.85" width="11.09" height="11.09" fill="#f01b20"/>
<rect x="163.11" y="370.85" width="11.09" height="11.09" fill="#f01b20"/>
<rect x="174.2" y="370.85" width="11.09" height="11.09" fill="#f01b20"/>
<rect x="185.29" y="370.85" width="11.09" height="11.09" fill="#fff"/>
<rect x="196.38" y="370.85" width="11.09" height="11.09" fill="#fff"/>
<rect x="207.47" y="370.85" width="11.09" height="11.09" fill="#fff"/>
<rect x="218.56" y="370.85" width="11.09" height="11.09" fill="#fff"/>
<rect x="229.65" y="370.85" width="11.09" height="11.09" fill="#fff"/>
<rect x="240.74" y="370.85" width="11.09" height="11.09" fill="#fff"/>
<rect x="63.3" y="381.94" width="11.09" height="11.09" fill="#fff"/>
<rect x="74.39" y="381.94" width="11.09" height="11.09" fill="#fff"/>
<rect x="85.48" y="381.94" width="11.09" height="11.09" fill="#fff"/>
<rect x="96.57" y="381.94" width="11.09" height="11.09" fill="#fff"/>
<rect x="107.66" y="381.94" width="11.09" height="11.09" fill="#fff"/>
<rect x="118.75" y="381.94" width="11.09" height="11.09" fill="#fff"/>
<rect x="129.84" y="381.94" width="11.09" height="11.09" fill="#f01b20"/>
<rect x="140.93" y="381.94" width="11.09" height="11.09" fill="#f01b20"/>
<rect x="152.02" y="381.94" width="11.09" height="11.09" fill="#f01b20"/>
<rect x="163.11" y="381.94" width="11.09" height="11.09" fill="#f01b20"/>
<rect x="174.2" y="381.94" width="11.09" height="11.09" fill="#42ba48"/>
<rect x="185.29" y="381.94" width="11.09" height="11.09" fill="#fff"/>
<rect x="196.38" y="381.94" width="11.09" height="11.09" fill="#fff"/>
<rect x="207.47" y="381.94" width="11.09" height="11.09" fill="#fff"/>
<rect x="218.56" y="381.94" width="11.09" height="11.09" fill="#fff"/>
<rect x="229.65" y="381.94" width="11.09" height="11.09" fill="#fff"/>
<rect x="240.74" y="381.94" width="11.09" height="11.09" fill="#fff"/>
<rect x="63.3" y="393.03" width="11.09" height="11.09" fill="#fff"/>
<rect x="74.39" y="393.03" width="11.09" height="11.09" fill="#fff"/>
<rect x="85.48" y="393.03" width="11.09" height="11.09" fill="#fff"/>
<rect x="96.57" y="393.03" width="11.09" height="11.09" fill="#f01b20"/>
<rect x="107.66" y="393.03" width="11.09" height="11.09" fill="#f01b20"/>
<rect x="118.75" y="393.03" width="11.09" height="11.09" fill="#f01b20"/>
<rect x="129.84" y="393.03" width="11.09" height="11.09" fill="#f01b20"/>
<rect x="140.93" y="393.03" width="11.09" height="11.09" fill="#f01b20"/>
<rect x="152.02" y="393.03" width="11.09" height="11.09" fill="#f01b20"/>
<rect x="163.11" y="393.03" width="11.09" height="11.09" fill="#42ba48"/>
<rect x="174.2" y="393.03" width="11.09" height="11.09" fill="#fff"/>
<rect x="185.29" y="393.03" width="11.09" height="11.09" fill="#fff"/>
<rect x="196.38" y="393.03" width="11.09" height="11.09" fill="#fff"/>
<rect x="207.47" y="393.03" width="11.09" height="11.09" fill="#fff"/>
<rect x="218.56" y="393.03" width="11.09" height="11.09" fill="#fff"/>
<rect x="229.65" y="393.03" width="11.09" height="11.09" fill="#fff"/>
<rect x="240.74" y="393.03" width="11.09" height="11.09" fill="#fff"/>
<rect x="63.3" y="404.12" width="11.09" height="11.09" fill="#fff"/>
<rect x="74.39" y="404.12" width="11.09" height="11.09" fill="#fff"/>
<rect x="85.48" y="404.12" width="11.09" height="11.09" fill="#fff"/>
<rect x="96.57" y="404.12" width="11.09" height="11.09" fill="#f01b20"/>
<rect x="107.66" y="404.12" width="11.09" height="11.09" fill="#f01b20"/>
<rect x="118.75" y="404.12" width="11.09" height="11.09" fill="#f01b20"/>
<rect x="129.84" y="404.12" width="11.09" height="11.09" fill="#f01b20"/>
<rect x="140.93" y="404.12" width="11.09" height="11.09" fill="#f01b20"/>
<rect x="152.02" y="404.12" width="11.09" height="11.09" fill="#42ba48"/>
<rect x="163.11" y="404.12" width="11.09" height="11.09" fill="#fff"/>
<rect x="174.2" y="404.12" width="11.09" height="11.09" fill="#fff"/>
<rect x="185.29" y="404.12" width="11.09" height="11.09" fill="#fff"/>
<rect x="196.38" y="404.12" width="11.09" height="11.09" fill="#fff"/>
<rect x="207.47" y="404.12" width="11.09" height="11.09" fill="#fff"/>
<rect x="218.56" y="404.12" width="11.09" height="11.09" fill="#fff"/>
<rect x="229.65" y="404.12" width="11.09" height="11.09" fill="#fff"/>
<rect x="240.74" y="404.12" width="11.09" height="11.09" fill="#fff"/>
<rect x="63.3" y="415.21" width="11.09" height="11.09" fill="#fff"/>
<rect x="74.39" y="415.21" width="11.09" height="11.09" fill="#fff"/>
<rect x="85.48" y="415.21" width="11.09" height="11.09" fill="#fff"/>
<rect x="96.57" y="415.21" width="11.09" height="11.09" fill="#f01b20"/>
<rect x="107.66" y="415.21" width="11.09" height="11.09" fill="#f01b20"/>
<rect x="118.75" y="415.21" width="11.09" height="11.09" fill="#f01b20"/>
<rect x="129.84" y="415.21" width="11.09" height="11.09" fill="#f01b20"/>
<rect x="140.93" y="415.21" width="11.09" height="11.09" fill="#42ba48"/>
<rect x="152.02" y="415.21" width="11.09" height="11.09" fill="#fff"/>
<rect x="163.11" y="415.21" width="11.09" height="11.09" fill="#fff"/>
<rect x="174.2" y="415.21" width="11.09" height="11.09" fill="#fff"/>
<rect x="185.29" y="415.21" width="11.09" height="11.09" fill="#fff"/>
<rect x="196.38" y="415.21" width="11.09" height="11.09" fill="#fff"/>
<rect x="207.47" y="415.21" width="11.09" height="11.09" fill="#fff"/>
<rect x="218.56" y="415.21" width="11.09" height="11.09" fill="#fff"/>
<rect x="229.65" y="415.21" width="11.09" height="11.09" fill="#fff"/>
<rect x="240.74" y="415.21" width="11.09" height="11.09" fill="#fff"/>
<rect x="63.3" y="426.3" width="11.09" height="11.09" fill="#fff"/>
<rect x="74.39" y="426.3" width="11.09" height="11.09" fill="#fff"/>
<rect x="85.48" y="426.3" width="11.09" height="11.09" fill="#f01b20"/>
<rect x="96.57" y="426.3" width="11.09" height="11.09" fill="#f01b20"/>
<rect x="107.66" y="426.3" width="11.09" height="11.09" fill="#f01b20"/>
<rect x="118.75" y="426.3" width="11.09" height="11.09" fill="#f01b20"/>
<rect x="129.84" y="426.3" width="11.09" height="11.09" fill="#42ba48"/>
<rect x="140.93" y="426.3" width="11.09" height="11.09" fill="#fff"/>
<rect x="152.02" y="426.3" width="11.09" height="11.09" fill="#fff"/>
<rect x="163.11" y="426.3" width="11.09" height="11.09" fill="#fff"/>
<rect x="174.2" y="426.3" width="11.09" height="11.09" fill="#fff"/>
<rect x="185.29" y="426.3" width="11.09" height="11.09" fill="#fff"/>
<rect x="196.38" y="426.3" width="11.09" height="11.09" fill="#fff"/>
<rect x="207.47" y="426.3" width="11.09" height="11.09" fill="#fff"/>
<rect x="218.56" y="426.3" width="11.09" height="11.09" fill="#fff"/>
<rect x="229.65" y="426.3" width="11.09" height="11.09" fill="#fff"/>
<rect x="240.74" y="426.3" width="11.09" height="11.09" fill="#fff"/>
<rect x="63.3" y="437.39" width="11.09" height="11.09" fill="#fff"/>
<rect x="74.39" y="437.39" width="11.09" height="11.09" fill="#f01b20"/>
<rect x="85.48" y="437.39" width="11.09" height="11.09" fill="#f01b20"/>
<rect x="96.57" y="437.39" width="11.09" height="11.09" fill="#f01b20"/>
<rect x="107.66" y="437.39" width="11.09" height="11.09" fill="#f01b20"/>
<rect x="118.75" y="437.39" width="11.09" height="11.09" fill="#42ba48"/>
<rect x="129.84" y="437.39" width="11.09" height="11.09" fill="#fff"/>
<rect x="140.93" y="437.39" width="11.09" height="11.09" fill="#fff"/>
<rect x="152.02" y="437.39" width="11.09" height="11.09" fill="#fff"/>
<rect x="163.11" y="437.39" width="11.09" height="11.09" fill="#fff"/>
<rect x="174.2" y="437.39" width="11.09" height="11.09" fill="#fff"/>
<rect x="185.29" y="437.39" width="11.09" height="11.09" fill="#fff"/>
<rect x="196.38" y="437.39" width="11.09" height="11.09" fill="#fff"/>
<rect x="207.47" y="437.39" width="11.09" height="11.09" fill="#fff"/>
<rect x="218.56" y="437.39" width="11.09" height="11.09" fill="#fff"/>
<rect x="229.65" y="437.39" width="11.09" height="11.09" fill="#fff"/>
<rect x="240.74" y="437.39" width="11.09" height="11.09" fill="#fff"/>
<rect x="63.3" y="448.48" width="11.09" height="11.09" fill="#f01b20"/>
<rect x="74.39" y="448.48" width="11.09" height="11.09" fill="#f01b20"/>
<rect x="85.48" y="448.48" width="11.09" height="11.09" fill="#f01b20"/>
<rect x="96.57" y="448.48" width="11.09" height="11.09" fill="#f01b20"/>
<rect x="107.66" y="448.48" width="11.09" height="11.09" fill="#42ba48"/>
<rect x="118.75" y="448.48" width="11.09" height="11.09" fill="#fff"/>
<rect x="129.84" y="448.48" width="11.09" height="11.09" fill="#fff"/>
<rect x="140.93" y="448.48" width="11.09" height="11.09" fill="#fff"/>
<rect x="152.02" y="448.48" width="11.09" height="11.09" fill="#fff"/>
<rect x="163.11" y="448.48" width="11.09" height="11.09" fill="#fff"/>
<rect x="174.2" y="448.48" width="11.09" height="11.09" fill="#fff"/>
<rect x="185.29" y="448.48" width="11.09" height="11.09" fill="#fff"/>
<rect x="196.38" y="448.48" width="11.09" height="11.09" fill="#fff"/>
<rect x="207.47" y="448.48" width="11.09" height="11.09" fill="#fff"/>
<rect x="218.56" y="448.48" width="11.09" height="11.09" fill="#fff"/>
<rect x="229.65" y="448.48" width="11.09" height="11.09" fill="#fff"/>
<rect x="240.74" y="448.48" width="11.09" height="11.09" fill="#fff"/>
<rect x="63.3" y="459.57" width="11.09" height="11.09" fill="#f01b20"/>
<rect x="74.39" y="459.57" width="11.09" height="11.09" fill="#f01b20"/>
<rect x="85.48" y="459.57" width="11.09" height="11.09" fill="#f01b20"/>
<rect x="96.57" y="459.57" width="11.09" height="11.09" fill="#42ba48"/>
<rect x="107.66" y="459.57" width="11.09" height="11.09" fill="#fff"/>
<rect x="118.75" y="459.57" width="11.09" height="11.09" fill="#fff"/>
<rect x="129.84" y="459.57" width="11.09" height="11.09" fill="#fff"/>
<rect x="140.93" y="459.57" width="11.09" height="11.09" fill="#fff"/>
<rect x="152.02" y="459.57" width="11.09" height="11.09" fill="#fff"/>
<rect x="163.11" y="459.57" width="11.09" height="11.09" fill="#fff"/>
<rect x="174.2" y="459.57" width="11.09" height="11.09" fill="#fff"/>
<rect x="185.29" y="459.57" width="11.09" height="11.09" fill="#fff"/>
<rect x="196.38" y="459.57" width="11.09" height="11.09" fill="#fff"/>
<rect x="207.47" y="459.57" width="11.09" height="11.09" fill="#fff"/>
<rect x="218.56" y="459.57" width="11.09" height="11.09" fill="#fff"/>
<rect x="229.65" y="459.57" width="11.09" height="11.09" fill="#fff"/>
<rect x="240.74" y="459.57" width="11.09" height="11.09" fill="#fff"/>
<rect x="63.3" y="470.66" width="11.09" height="11.09" fill="#f01b20"/>
<rect x="74.39" y="470.66" width="11.09" height="11.09" fill="#f01b20"/>
<rect x="85.48" y="470.66" width="11.09" height="11.09" fill="#42ba48"/>
<rect x="96.57" y="470.66" width="11.09" height="11.09" fill="#fff"/>
<rect x="107.66" y="470.66" width="11.09" height="11.09" fill="#fff"/>
<rect x="118.75" y="470.66" width="11.09" height="11.09" fill="#fff"/>
<rect x="129.84" y="470.66" width="11.09" height="11.09" fill="#fff"/>
<rect x="140.93" y="470.66" width="11.09" height="11.09" fill="#fff"/>
<rect x="152.02" y="470.66" width="11.09" height="11.09" fill="#fff"/>
<rect x="163.11" y="470.66" width="11.09" height="11.09" fill="#fff"/>
<rect x="174.2" y="470.66" width="11.09" height="11.09" fill="#fff"/>
<rect x="185.29" y="470.66" width="11.09" height="11.09" fill="#fff"/>
<rect x="196.38" y="470.66" width="11.09" height="11.09" fill="#fff"/>
<rect x="207.47" y="470.66" width="11.09" height="11.09" fill="#fff"/>
<rect x="218.56" y="470.66" width="11.09" height="11.09" fill="#fff"/>
<rect x="229.65" y="470.66" width="11.09" height="11.09" fill="#fff"/>
<rect x="240.74" y="470.66" width="11.09" height="11.09" fill="#fff"/>
<rect x="63.3" y="481.75" width="11.09" height="11.09" fill="#f01b20"/>
<rect x="74.39" y="481.75" width="11.09" height="11.09" fill="#42ba48"/>
<rect x="85.48" y="481.75" width="11.09" height="11.09" fill="#fff"/>
<rect x="96.57" y="481.75" width="11.09" height="11.09" fill="#fff"/>
<rect x="107.66" y="481.75" width="11.09" height="11.09" fill="#fff"/>
<rect x="118.75" y="481.75" width="11.09" height="11.09" fill="#fff"/>
<rect x="129.84" y="481.75" width="11.09" height="11.09" fill="#fff"/>
<rect x="140.93" y="481.75" width="11.09" height="11.09" fill="#fff"/>
<rect x="152.02" y="481.75" width="11.09" height="11.09" fill="#fff"/>
<rect x="163.11" y="481.75" width="11.09" height="11.09" fill="#fff"/>
<rect x="174.2" y="481.75" width="11.09" height="11.09" fill="#fff"/>
<rect x="185.29" y="481.75" width="11.09" height="11.09" fill="#fff"/>
<rect x="196.38" y="481.75" width="11.09" height="11.09" fill="#fff"/>
<rect x="207.47" y="481.75" width="11.09" height="11.09" fill="#fff"/>
<rect x="218.56" y="481.75" width="11.09" height="11.09" fill="#fff"/>
<rect x="229.65" y="481.75" width="11.09" height="11.09" fill="#fff"/>
<rect x="240.74" y="481.75" width="11.09" height="11.09" fill="#fff"/>
<rect x="63.3" y="492.84" width="11.09" height="11.09" fill="#42ba48"/>
<rect x="74.39" y="492.84" width="11.09" height="11.09" fill="#fff"/>
<rect x="85.48" y="492.84" width="11.09" height="11.09" fill="#fff"/>
<rect x="96.57" y="492.84" width="11.09" height="11.09" fill="#fff"/>
<rect x="107.66" y="492.84" width="11.09" height="11.09" fill="#fff"/>
<rect x="118.75" y="492.84" width="11.09" height="11.09" fill="#fff"/>
<rect x="129.84" y="492.84" width="11.09" height="11.09" fill="#fff"/>
<rect x="140.93" y="492.84" width="11.09" height="11.09" fill="#fff"/>
<rect x="152.02" y="492.84" width="11.09" height="11.09" fill="#fff"/>
<rect x="163.11" y="492.84" width="11.09" height="11.09" fill="#fff"/>
<rect x="174.2" y="492.84" width="11.09" height="11.09" fill="#fff"/>
<rect x="185.29" y="492.84" width="11.09" height="11.09" fill="#fff"/>
<rect x="196.38" y="492.84" width="11.09" height="11.09" fill="#fff"/>
<rect x="207.47" y="492.84" width="11.09" height="11.09" fill="#fff"/>
<rect x="218.56" y="492.84" width="11.09" height="11.09" fill="#fff"/>
<rect x="229.65" y="492.84" width="11.09" height="11.09" fill="#fff"/>
<rect x="240.74" y="492.84" width="11.09" height="11.09" fill="#fff"/>
<line x1="63.3" y1="315.4" x2="63.3" y2="503.93" stroke="#111" stroke-width="1.5"/>
<line x1="63.3" y1="315.4" x2="251.83" y2="315.4" stroke="#111" stroke-width="1.5"/>
<line x1="74.39" y1="315.4" x2="74.39" y2="503.93" stroke="#111" stroke-width="1.5"/>
<line x1="63.3" y1="326.49" x2="251.83" y2="326.49" stroke="#111" stroke-width="1.5"/>
<line x1="85.48" y1="315.4" x2="85.48" y2="503.93" stroke="#111" stroke-width="1.5"/>
<line x1="63.3" y1="337.58" x2="251.83" y2="337.58" stroke="#111" stroke-width="1.5"/>
<line x1="96.57" y1="315.4" x2="96.57" y2="503.93" stroke="#111" stroke-width="1.5"/>
<line x1="63.3" y1="348.67" x2="251.83" y2="348.67" stroke="#111" stroke-width="1.5"/>
<line x1="107.66" y1="315.4" x2="107.66" y2="503.93" stroke="#111" stroke-width="1.5"/>
<line x1="63.3" y1="359.76" x2="251.83" y2="359.76" stroke="#111" stroke-width="1.5"/>
<line x1="118.75" y1="315.4" x2="118.75" y2="503.93" stroke="#111" stroke-width="1.5"/>
<line x1="63.3" y1="370.85" x2="251.83" y2="370.85" stroke="#111" stroke-width="1.5"/>
<line x1="129.84" y1="315.4" x2="129.84" y2="503.93" stroke="#111" stroke-width="1.5"/>
<line x1="63.3" y1="381.94" x2="251.83" y2="381.94" stroke="#111" stroke-width="1.5"/>
<line x1="140.93" y1="315.4" x2="140.93" y2="503.93" stroke="#111" stroke-width="1.5"/>
<line x1="63.3" y1="393.03" x2="251.83" y2="393.03" stroke="#111" stroke-width="1.5"/>
<line x1="152.02" y1="315.4" x2="152.02" y2="503.93" stroke="#111" stroke-width="1.5"/>
<line x1="63.3" y1="404.12" x2="251.83" y2="404.12" stroke="#111" stroke-width="1.5"/>
<line x1="163.11" y1="315.4" x2="163.11" y2="503.93" stroke="#111" stroke-width="1.5"/>
<line x1="63.3" y1="415.21" x2="251.83" y2="415.21" stroke="#111" stroke-width="1.5"/>
<line x1="174.2" y1="315.4" x2="174.2" y2="503.93" stroke="#111" stroke-width="1.5"/>
<line x1="63.3" y1="426.3" x2="251.83" y2="426.3" stroke="#111" stroke-width="1.5"/>
<line x1="185.29" y1="315.4" x2="185.29" y2="503.93" stroke="#111" stroke-width="1.5"/>
<line x1="63.3" y1="437.39" x2="251.83" y2="437.39" stroke="#111" stroke-width="1.5"/>
<line x1="196.38" y1="315.4" x2="196.38" y2="503.93" stroke="#111" stroke-width="1.5"/>
<line x1="63.3" y1="448.48" x2="251.83" y2="448.48" stroke="#111" stroke-width="1.5"/>
<line x1="207.47" y1="315.4" x2="207.47" y2="503.93" stroke="#111" stroke-width="1.5"/>
<line x1="63.3" y1="459.57" x2="251.83" y2="459.57" stroke="#111" stroke-width="1.5"/>
<line x1="218.56" y1="315.4" x2="218.56" y2="503.93" stroke="#111" stroke-width="1.5"/>
<line x1="63.3" y1="470.66" x2="251.83" y2="470.66" stroke="#111" stroke-width="1.5"/>
<line x1="229.65" y1="315.4" x2="229.65" y2="503.93" stroke="#111" stroke-width="1.5"/>
<line x1="63.3" y1="481.75" x2="251.83" y2="481.75" stroke="#111" stroke-width="1.5"/>
<line x1="240.74" y1="315.4" x2="240.74" y2="503.93" stroke="#111" stroke-width="1.5"/>
<line x1="63.3" y1="492.84" x2="251.83" y2="492.84" stroke="#111" stroke-width="1.5"/>
<line x1="251.83" y1="315.4" x2="251.83" y2="503.93" stroke="#111" stroke-width="1.5"/>
<line x1="63.3" y1="503.93" x2="251.83" y2="503.93" stroke="#111" stroke-width="1.5"/>
<text transform="translate(213.01,323.84) scale(1,1.03)" font-size="6.1" text-anchor="middle" font-weight="normal" fill="#fff" fill-opacity="0.88">25</text>
<text transform="translate(190.83,334.93) scale(1,1.03)" font-size="6.1" text-anchor="middle" font-weight="normal" fill="#fff" fill-opacity="0.88">29</text>
<text transform="translate(201.92,334.93) scale(1,1.03)" font-size="6.1" text-anchor="middle" font-weight="normal" fill="#fff" fill-opacity="0.88">100</text>
<text transform="translate(213.01,334.93) scale(1,1.03)" font-size="6.1" text-anchor="middle" font-weight="normal" fill="#fff" fill-opacity="0.88">50</text>
<text transform="translate(224.1,334.93) scale(1,1.03)" font-size="6.1" text-anchor="middle" font-weight="normal" fill="#fff" fill-opacity="0.88">100</text>
<text transform="translate(168.66,346.02) scale(1,1.03)" font-size="6.1" text-anchor="middle" font-weight="normal" fill="#fff" fill-opacity="0.88">20</text>
<text transform="translate(190.83,346.02) scale(1,1.03)" font-size="6.1" text-anchor="middle" font-weight="normal" fill="#fff" fill-opacity="0.88">43</text>
<text transform="translate(213.01,346.02) scale(1,1.03)" font-size="6.1" text-anchor="middle" font-weight="normal" fill="#fff" fill-opacity="0.88">25</text>
<text transform="translate(168.66,357.11) scale(1,1.03)" font-size="6.1" text-anchor="middle" font-weight="normal" fill="#fff" fill-opacity="0.88">8</text>
<text transform="translate(179.74,357.11) scale(1,1.03)" font-size="6.1" text-anchor="middle" font-weight="normal" fill="#fff" fill-opacity="0.88">29</text>
<text transform="translate(190.83,357.11) scale(1,1.03)" font-size="6.1" text-anchor="middle" font-weight="normal" fill="#fff" fill-opacity="0.88">29</text>
<text transform="translate(168.66,368.2) scale(1,1.03)" font-size="6.1" text-anchor="middle" font-weight="normal" fill="#fff" fill-opacity="0.88">8</text>
<text transform="translate(179.74,368.2) scale(1,1.03)" font-size="6.1" text-anchor="middle" font-weight="normal" fill="#fff" fill-opacity="0.88">29</text>
<text transform="translate(157.56,379.29) scale(1,1.03)" font-size="6.1" text-anchor="middle" font-weight="normal" fill="#fff" fill-opacity="0.88">6</text>
<text transform="translate(168.66,379.29) scale(1,1.03)" font-size="6.1" text-anchor="middle" font-weight="normal" fill="#fff" fill-opacity="0.88">8</text>
<text transform="translate(179.74,379.29) scale(1,1.03)" font-size="6.1" text-anchor="middle" font-weight="normal" fill="#fff" fill-opacity="0.88">18</text>
<text transform="translate(135.38,390.38) scale(1,1.03)" font-size="6.1" text-anchor="middle" font-weight="normal" fill="#fff" fill-opacity="0.88">7</text>
<text transform="translate(146.47,390.38) scale(1,1.03)" font-size="6.1" text-anchor="middle" font-weight="normal" fill="#fff" fill-opacity="0.88">15</text>
<text transform="translate(157.56,390.38) scale(1,1.03)" font-size="6.1" text-anchor="middle" font-weight="normal" fill="#fff" fill-opacity="0.88">65</text>
<text transform="translate(168.66,390.38) scale(1,1.03)" font-size="6.1" text-anchor="middle" font-weight="normal" fill="#fff" fill-opacity="0.88">44</text>
<text transform="translate(179.74,390.38) scale(1,1.03)" font-size="6.1" text-anchor="middle" font-weight="normal" fill="#fff" fill-opacity="0.88">24</text>
<text transform="translate(102.11,401.47) scale(1,1.03)" font-size="6.1" text-anchor="middle" font-weight="normal" fill="#fff" fill-opacity="0.88">3</text>
<text transform="translate(113.2,401.47) scale(1,1.03)" font-size="6.1" text-anchor="middle" font-weight="normal" fill="#fff" fill-opacity="0.88">4</text>
<text transform="translate(124.3,401.47) scale(1,1.03)" font-size="6.1" text-anchor="middle" font-weight="normal" fill="#fff" fill-opacity="0.88">10</text>
<text transform="translate(135.38,401.47) scale(1,1.03)" font-size="6.1" text-anchor="middle" font-weight="normal" fill="#fff" fill-opacity="0.88">14</text>
<text transform="translate(146.47,401.47) scale(1,1.03)" font-size="6.1" text-anchor="middle" font-weight="normal" fill="#fff" fill-opacity="0.88">46</text>
<text transform="translate(157.56,401.47) scale(1,1.03)" font-size="6.1" text-anchor="middle" font-weight="normal" fill="#fff" fill-opacity="0.88">18</text>
<text transform="translate(168.66,401.47) scale(1,1.03)" font-size="6.1" text-anchor="middle" font-weight="normal" fill="#fff" fill-opacity="0.88">12</text>
<text transform="translate(102.11,412.56) scale(1,1.03)" font-size="6.1" text-anchor="middle" font-weight="normal" fill="#fff" fill-opacity="0.88">3</text>
<text transform="translate(113.2,412.56) scale(1,1.03)" font-size="6.1" text-anchor="middle" font-weight="normal" fill="#fff" fill-opacity="0.88">25</text>
<text transform="translate(124.3,412.56) scale(1,1.03)" font-size="6.1" text-anchor="middle" font-weight="normal" fill="#fff" fill-opacity="0.88">19</text>
<text transform="translate(135.38,412.56) scale(1,1.03)" font-size="6.1" text-anchor="middle" font-weight="normal" fill="#fff" fill-opacity="0.88">29</text>
<text transform="translate(146.47,412.56) scale(1,1.03)" font-size="6.1" text-anchor="middle" font-weight="normal" fill="#fff" fill-opacity="0.88">8</text>
<text transform="translate(157.56,412.56) scale(1,1.03)" font-size="6.1" text-anchor="middle" font-weight="normal" fill="#fff" fill-opacity="0.88">12</text>
<text transform="translate(102.11,423.65) scale(1,1.03)" font-size="6.1" text-anchor="middle" font-weight="normal" fill="#fff" fill-opacity="0.88">3</text>
<text transform="translate(113.2,423.65) scale(1,1.03)" font-size="6.1" text-anchor="middle" font-weight="normal" fill="#fff" fill-opacity="0.88">14</text>
<text transform="translate(124.3,423.65) scale(1,1.03)" font-size="6.1" text-anchor="middle" font-weight="normal" fill="#fff" fill-opacity="0.88">8</text>
<text transform="translate(135.38,423.65) scale(1,1.03)" font-size="6.1" text-anchor="middle" font-weight="normal" fill="#fff" fill-opacity="0.88">36</text>
<text transform="translate(146.47,423.65) scale(1,1.03)" font-size="6.1" text-anchor="middle" font-weight="normal" fill="#fff" fill-opacity="0.88">31</text>
<text transform="translate(91.02,434.74) scale(1,1.03)" font-size="6.1" text-anchor="middle" font-weight="normal" fill="#fff" fill-opacity="0.88">4</text>
<text transform="translate(102.11,434.74) scale(1,1.03)" font-size="6.1" text-anchor="middle" font-weight="normal" fill="#fff" fill-opacity="0.88">5</text>
<text transform="translate(113.2,434.74) scale(1,1.03)" font-size="6.1" text-anchor="middle" font-weight="normal" fill="#fff" fill-opacity="0.88">14</text>
<text transform="translate(124.3,434.74) scale(1,1.03)" font-size="6.1" text-anchor="middle" font-weight="normal" fill="#fff" fill-opacity="0.88">12</text>
<text transform="translate(135.38,434.74) scale(1,1.03)" font-size="6.1" text-anchor="middle" font-weight="normal" fill="#fff" fill-opacity="0.88">14</text>
<text transform="translate(79.94,445.83) scale(1,1.03)" font-size="6.1" text-anchor="middle" font-weight="normal" fill="#fff" fill-opacity="0.88">4</text>
<text transform="translate(91.02,445.83) scale(1,1.03)" font-size="6.1" text-anchor="middle" font-weight="normal" fill="#fff" fill-opacity="0.88">12</text>
<text transform="translate(102.11,445.83) scale(1,1.03)" font-size="6.1" text-anchor="middle" font-weight="normal" fill="#fff" fill-opacity="0.88">23</text>
<text transform="translate(113.2,445.83) scale(1,1.03)" font-size="6.1" text-anchor="middle" font-weight="normal" fill="#fff" fill-opacity="0.88">21</text>
<text transform="translate(124.3,445.83) scale(1,1.03)" font-size="6.1" text-anchor="middle" font-weight="normal" fill="#fff" fill-opacity="0.88">51</text>
<text transform="translate(68.84,456.92) scale(1,1.03)" font-size="6.1" text-anchor="middle" font-weight="normal" fill="#fff" fill-opacity="0.88">2</text>
<text transform="translate(79.94,456.92) scale(1,1.03)" font-size="6.1" text-anchor="middle" font-weight="normal" fill="#fff" fill-opacity="0.88">4</text>
<text transform="translate(91.02,456.92) scale(1,1.03)" font-size="6.1" text-anchor="middle" font-weight="normal" fill="#fff" fill-opacity="0.88">20</text>
<text transform="translate(102.11,456.92) scale(1,1.03)" font-size="6.1" text-anchor="middle" font-weight="normal" fill="#fff" fill-opacity="0.88">31</text>
<text transform="translate(113.2,456.92) scale(1,1.03)" font-size="6.1" text-anchor="middle" font-weight="normal" fill="#fff" fill-opacity="0.88">21</text>
<text transform="translate(68.84,468.01) scale(1,1.03)" font-size="6.1" text-anchor="middle" font-weight="normal" fill="#fff" fill-opacity="0.88">5</text>
<text transform="translate(79.94,468.01) scale(1,1.03)" font-size="6.1" text-anchor="middle" font-weight="normal" fill="#fff" fill-opacity="0.88">9</text>
<text transform="translate(91.02,468.01) scale(1,1.03)" font-size="6.1" text-anchor="middle" font-weight="normal" fill="#fff" fill-opacity="0.88">16</text>
<text transform="translate(102.11,468.01) scale(1,1.03)" font-size="6.1" text-anchor="middle" font-weight="normal" fill="#fff" fill-opacity="0.88">33</text>
<text transform="translate(68.84,479.1) scale(1,1.03)" font-size="6.1" text-anchor="middle" font-weight="normal" fill="#fff" fill-opacity="0.88">9</text>
<text transform="translate(79.94,479.1) scale(1,1.03)" font-size="6.1" text-anchor="middle" font-weight="normal" fill="#fff" fill-opacity="0.88">35</text>
<text transform="translate(91.02,479.1) scale(1,1.03)" font-size="6.1" text-anchor="middle" font-weight="normal" fill="#fff" fill-opacity="0.88">48</text>
<text transform="translate(68.84,490.19) scale(1,1.03)" font-size="6.1" text-anchor="middle" font-weight="normal" fill="#fff" fill-opacity="0.88">8</text>
<text transform="translate(79.94,490.19) scale(1,1.03)" font-size="6.1" text-anchor="middle" font-weight="normal" fill="#fff" fill-opacity="0.88">48</text>
<text transform="translate(68.84,501.28) scale(1,1.03)" font-size="6.1" text-anchor="middle" font-weight="normal" fill="#fff" fill-opacity="0.88">75</text>
<text transform="translate(57.5,324.19) scale(1,1.03)" font-size="9.0" text-anchor="end" fill="#333333" stroke="#333333" stroke-width="0.25">100</text>
<text transform="translate(57.5,335.28) scale(1,1.03)" font-size="9.0" text-anchor="end" fill="#333333" stroke="#333333" stroke-width="0.25">99</text>
<text transform="translate(57.5,346.38) scale(1,1.03)" font-size="9.0" text-anchor="end" fill="#333333" stroke="#333333" stroke-width="0.25">98</text>
<text transform="translate(57.5,357.46) scale(1,1.03)" font-size="9.0" text-anchor="end" fill="#333333" stroke="#333333" stroke-width="0.25">97</text>
<text transform="translate(57.5,368.56) scale(1,1.03)" font-size="9.0" text-anchor="end" fill="#333333" stroke="#333333" stroke-width="0.25">96</text>
<text transform="translate(57.5,379.64) scale(1,1.03)" font-size="9.0" text-anchor="end" fill="#333333" stroke="#333333" stroke-width="0.25">95</text>
<text transform="translate(57.5,390.73) scale(1,1.03)" font-size="9.0" text-anchor="end" fill="#333333" stroke="#333333" stroke-width="0.25">90–94</text>
<text transform="translate(57.5,401.82) scale(1,1.03)" font-size="9.0" text-anchor="end" fill="#333333" stroke="#333333" stroke-width="0.25">85–89</text>
<text transform="translate(57.5,412.92) scale(1,1.03)" font-size="9.0" text-anchor="end" fill="#333333" stroke="#333333" stroke-width="0.25">80–84</text>
<text transform="translate(57.5,424) scale(1,1.03)" font-size="9.0" text-anchor="end" fill="#333333" stroke="#333333" stroke-width="0.25">75–79</text>
<text transform="translate(57.5,435.09) scale(1,1.03)" font-size="9.0" text-anchor="end" fill="#333333" stroke="#333333" stroke-width="0.25">70–74</text>
<text transform="translate(57.5,446.19) scale(1,1.03)" font-size="9.0" text-anchor="end" fill="#333333" stroke="#333333" stroke-width="0.25">60–69</text>
<text transform="translate(57.5,457.27) scale(1,1.03)" font-size="9.0" text-anchor="end" fill="#333333" stroke="#333333" stroke-width="0.25">50–59</text>
<text transform="translate(57.5,468.36) scale(1,1.03)" font-size="9.0" text-anchor="end" fill="#333333" stroke="#333333" stroke-width="0.25">40–49</text>
<text transform="translate(57.5,479.45) scale(1,1.03)" font-size="9.0" text-anchor="end" fill="#333333" stroke="#333333" stroke-width="0.25">30–39</text>
<text transform="translate(57.5,490.55) scale(1,1.03)" font-size="9.0" text-anchor="end" fill="#333333" stroke="#333333" stroke-width="0.25">20–29</text>
<text transform="translate(57.5,501.63) scale(1,1.03)" font-size="9.0" text-anchor="end" fill="#333333" stroke="#333333" stroke-width="0.25">0–19</text>
<text transform="translate(72.09,509.13) rotate(-90) scale(1,1.03)" font-size="9.0" text-anchor="end" fill="#333333" stroke="#333333" stroke-width="0.25">0–19</text>
<text transform="translate(83.19,509.13) rotate(-90) scale(1,1.03)" font-size="9.0" text-anchor="end" fill="#333333" stroke="#333333" stroke-width="0.25">20–29</text>
<text transform="translate(94.27,509.13) rotate(-90) scale(1,1.03)" font-size="9.0" text-anchor="end" fill="#333333" stroke="#333333" stroke-width="0.25">30–39</text>
<text transform="translate(105.36,509.13) rotate(-90) scale(1,1.03)" font-size="9.0" text-anchor="end" fill="#333333" stroke="#333333" stroke-width="0.25">40–49</text>
<text transform="translate(116.45,509.13) rotate(-90) scale(1,1.03)" font-size="9.0" text-anchor="end" fill="#333333" stroke="#333333" stroke-width="0.25">50–59</text>
<text transform="translate(127.55,509.13) rotate(-90) scale(1,1.03)" font-size="9.0" text-anchor="end" fill="#333333" stroke="#333333" stroke-width="0.25">60–69</text>
<text transform="translate(138.63,509.13) rotate(-90) scale(1,1.03)" font-size="9.0" text-anchor="end" fill="#333333" stroke="#333333" stroke-width="0.25">70–74</text>
<text transform="translate(149.72,509.13) rotate(-90) scale(1,1.03)" font-size="9.0" text-anchor="end" fill="#333333" stroke="#333333" stroke-width="0.25">75–79</text>
<text transform="translate(160.81,509.13) rotate(-90) scale(1,1.03)" font-size="9.0" text-anchor="end" fill="#333333" stroke="#333333" stroke-width="0.25">80–84</text>
<text transform="translate(171.91,509.13) rotate(-90) scale(1,1.03)" font-size="9.0" text-anchor="end" fill="#333333" stroke="#333333" stroke-width="0.25">85–89</text>
<text transform="translate(182.99,509.13) rotate(-90) scale(1,1.03)" font-size="9.0" text-anchor="end" fill="#333333" stroke="#333333" stroke-width="0.25">90–94</text>
<text transform="translate(194.08,509.13) rotate(-90) scale(1,1.03)" font-size="9.0" text-anchor="end" fill="#333333" stroke="#333333" stroke-width="0.25">95</text>
<text transform="translate(205.17,509.13) rotate(-90) scale(1,1.03)" font-size="9.0" text-anchor="end" fill="#333333" stroke="#333333" stroke-width="0.25">96</text>
<text transform="translate(216.26,509.13) rotate(-90) scale(1,1.03)" font-size="9.0" text-anchor="end" fill="#333333" stroke="#333333" stroke-width="0.25">97</text>
<text transform="translate(227.35,509.13) rotate(-90) scale(1,1.03)" font-size="9.0" text-anchor="end" fill="#333333" stroke="#333333" stroke-width="0.25">98</text>
<text transform="translate(238.44,509.13) rotate(-90) scale(1,1.03)" font-size="9.0" text-anchor="end" fill="#333333" stroke="#333333" stroke-width="0.25">99</text>
<text transform="translate(249.53,509.13) rotate(-90) scale(1,1.03)" font-size="9.0" text-anchor="end" fill="#333333" stroke="#333333" stroke-width="0.25">100</text>
<text transform="translate(157.56,543.9)" font-size="9.3" text-anchor="middle" font-weight="bold" fill="#000">CPRA category for CPRA (allele)</text>
<text transform="translate(28.4,409.66) rotate(-90)" font-size="9.3" text-anchor="middle" font-weight="bold" fill="#000">CPRA category for CPRA (EP)</text>
<text transform="translate(433.97,291.3) scale(1,1.03)" font-size="9.2" text-anchor="middle" fill="#111" stroke="#111" stroke-width="0.1">Category reclassification using CPRA (EP)</text>
<rect x="341.9" y="297.5" width="11.6" height="11.6" fill="#f01b20" stroke="#222" stroke-width="1"/>
<text transform="translate(359.5,306.8) scale(1,1.03)" font-size="9.2" fill="#111" stroke="#111" stroke-width="0.1">To Higher</text>
<rect x="403.4" y="297.5" width="11.6" height="11.6" fill="#42ba48" stroke="#222" stroke-width="1"/>
<text transform="translate(420.5,306.8) scale(1,1.03)" font-size="9.2" fill="#111" stroke="#111" stroke-width="0.1">No Change</text>
<rect x="472" y="297.5" width="11.6" height="11.6" fill="#3c85cc" stroke="#222" stroke-width="1"/>
<text transform="translate(490.4,306.8) scale(1,1.03)" font-size="9.2" fill="#111" stroke="#111" stroke-width="0.1">To Lower</text>
<rect x="339.7" y="315.4" width="11.09" height="11.09" fill="#fff"/>
<rect x="350.79" y="315.4" width="11.09" height="11.09" fill="#fff"/>
<rect x="361.88" y="315.4" width="11.09" height="11.09" fill="#fff"/>
<rect x="372.97" y="315.4" width="11.09" height="11.09" fill="#fff"/>
<rect x="384.06" y="315.4" width="11.09" height="11.09" fill="#fff"/>
<rect x="395.15" y="315.4" width="11.09" height="11.09" fill="#fff"/>
<rect x="406.24" y="315.4" width="11.09" height="11.09" fill="#fff"/>
<rect x="417.33" y="315.4" width="11.09" height="11.09" fill="#fff"/>
<rect x="428.42" y="315.4" width="11.09" height="11.09" fill="#fff"/>
<rect x="439.51" y="315.4" width="11.09" height="11.09" fill="#fff"/>
<rect x="450.6" y="315.4" width="11.09" height="11.09" fill="#fff"/>
<rect x="461.69" y="315.4" width="11.09" height="11.09" fill="#fff"/>
<rect x="472.78" y="315.4" width="11.09" height="11.09" fill="#fff"/>
<rect x="483.87" y="315.4" width="11.09" height="11.09" fill="#fff"/>
<rect x="494.96" y="315.4" width="11.09" height="11.09" fill="#fff"/>
<rect x="506.05" y="315.4" width="11.09" height="11.09" fill="#fff"/>
<rect x="517.14" y="315.4" width="11.09" height="11.09" fill="#42ba48"/>
<rect x="339.7" y="326.49" width="11.09" height="11.09" fill="#fff"/>
<rect x="350.79" y="326.49" width="11.09" height="11.09" fill="#fff"/>
<rect x="361.88" y="326.49" width="11.09" height="11.09" fill="#fff"/>
<rect x="372.97" y="326.49" width="11.09" height="11.09" fill="#fff"/>
<rect x="384.06" y="326.49" width="11.09" height="11.09" fill="#fff"/>
<rect x="395.15" y="326.49" width="11.09" height="11.09" fill="#fff"/>
<rect x="406.24" y="326.49" width="11.09" height="11.09" fill="#fff"/>
<rect x="417.33" y="326.49" width="11.09" height="11.09" fill="#fff"/>
<rect x="428.42" y="326.49" width="11.09" height="11.09" fill="#fff"/>
<rect x="439.51" y="326.49" width="11.09" height="11.09" fill="#fff"/>
<rect x="450.6" y="326.49" width="11.09" height="11.09" fill="#fff"/>
<rect x="461.69" y="326.49" width="11.09" height="11.09" fill="#fff"/>
<rect x="472.78" y="326.49" width="11.09" height="11.09" fill="#fff"/>
<rect x="483.87" y="326.49" width="11.09" height="11.09" fill="#fff"/>
<rect x="494.96" y="326.49" width="11.09" height="11.09" fill="#f01b20"/>
<rect x="506.05" y="326.49" width="11.09" height="11.09" fill="#42ba48"/>
<rect x="517.14" y="326.49" width="11.09" height="11.09" fill="#3c85cc"/>
<rect x="339.7" y="337.58" width="11.09" height="11.09" fill="#fff"/>
<rect x="350.79" y="337.58" width="11.09" height="11.09" fill="#fff"/>
<rect x="361.88" y="337.58" width="11.09" height="11.09" fill="#fff"/>
<rect x="372.97" y="337.58" width="11.09" height="11.09" fill="#fff"/>
<rect x="384.06" y="337.58" width="11.09" height="11.09" fill="#fff"/>
<rect x="395.15" y="337.58" width="11.09" height="11.09" fill="#fff"/>
<rect x="406.24" y="337.58" width="11.09" height="11.09" fill="#fff"/>
<rect x="417.33" y="337.58" width="11.09" height="11.09" fill="#fff"/>
<rect x="428.42" y="337.58" width="11.09" height="11.09" fill="#fff"/>
<rect x="439.51" y="337.58" width="11.09" height="11.09" fill="#fff"/>
<rect x="450.6" y="337.58" width="11.09" height="11.09" fill="#f01b20"/>
<rect x="461.69" y="337.58" width="11.09" height="11.09" fill="#fff"/>
<rect x="472.78" y="337.58" width="11.09" height="11.09" fill="#fff"/>
<rect x="483.87" y="337.58" width="11.09" height="11.09" fill="#f01b20"/>
<rect x="494.96" y="337.58" width="11.09" height="11.09" fill="#fff"/>
<rect x="506.05" y="337.58" width="11.09" height="11.09" fill="#3c85cc"/>
<rect x="517.14" y="337.58" width="11.09" height="11.09" fill="#3c85cc"/>
<rect x="339.7" y="348.67" width="11.09" height="11.09" fill="#fff"/>
<rect x="350.79" y="348.67" width="11.09" height="11.09" fill="#fff"/>
<rect x="361.88" y="348.67" width="11.09" height="11.09" fill="#fff"/>
<rect x="372.97" y="348.67" width="11.09" height="11.09" fill="#fff"/>
<rect x="384.06" y="348.67" width="11.09" height="11.09" fill="#fff"/>
<rect x="395.15" y="348.67" width="11.09" height="11.09" fill="#fff"/>
<rect x="406.24" y="348.67" width="11.09" height="11.09" fill="#fff"/>
<rect x="417.33" y="348.67" width="11.09" height="11.09" fill="#fff"/>
<rect x="428.42" y="348.67" width="11.09" height="11.09" fill="#fff"/>
<rect x="439.51" y="348.67" width="11.09" height="11.09" fill="#fff"/>
<rect x="450.6" y="348.67" width="11.09" height="11.09" fill="#fff"/>
<rect x="461.69" y="348.67" width="11.09" height="11.09" fill="#fff"/>
<rect x="472.78" y="348.67" width="11.09" height="11.09" fill="#f01b20"/>
<rect x="483.87" y="348.67" width="11.09" height="11.09" fill="#42ba48"/>
<rect x="494.96" y="348.67" width="11.09" height="11.09" fill="#3c85cc"/>
<rect x="506.05" y="348.67" width="11.09" height="11.09" fill="#3c85cc"/>
<rect x="517.14" y="348.67" width="11.09" height="11.09" fill="#fff"/>
<rect x="339.7" y="359.76" width="11.09" height="11.09" fill="#fff"/>
<rect x="350.79" y="359.76" width="11.09" height="11.09" fill="#fff"/>
<rect x="361.88" y="359.76" width="11.09" height="11.09" fill="#fff"/>
<rect x="372.97" y="359.76" width="11.09" height="11.09" fill="#fff"/>
<rect x="384.06" y="359.76" width="11.09" height="11.09" fill="#fff"/>
<rect x="395.15" y="359.76" width="11.09" height="11.09" fill="#fff"/>
<rect x="406.24" y="359.76" width="11.09" height="11.09" fill="#fff"/>
<rect x="417.33" y="359.76" width="11.09" height="11.09" fill="#fff"/>
<rect x="428.42" y="359.76" width="11.09" height="11.09" fill="#fff"/>
<rect x="439.51" y="359.76" width="11.09" height="11.09" fill="#fff"/>
<rect x="450.6" y="359.76" width="11.09" height="11.09" fill="#f01b20"/>
<rect x="461.69" y="359.76" width="11.09" height="11.09" fill="#f01b20"/>
<rect x="472.78" y="359.76" width="11.09" height="11.09" fill="#fff"/>
<rect x="483.87" y="359.76" width="11.09" height="11.09" fill="#3c85cc"/>
<rect x="494.96" y="359.76" width="11.09" height="11.09" fill="#fff"/>
<rect x="506.05" y="359.76" width="11.09" height="11.09" fill="#fff"/>
<rect x="517.14" y="359.76" width="11.09" height="11.09" fill="#3c85cc"/>
<rect x="339.7" y="370.85" width="11.09" height="11.09" fill="#fff"/>
<rect x="350.79" y="370.85" width="11.09" height="11.09" fill="#fff"/>
<rect x="361.88" y="370.85" width="11.09" height="11.09" fill="#fff"/>
<rect x="372.97" y="370.85" width="11.09" height="11.09" fill="#fff"/>
<rect x="384.06" y="370.85" width="11.09" height="11.09" fill="#fff"/>
<rect x="395.15" y="370.85" width="11.09" height="11.09" fill="#fff"/>
<rect x="406.24" y="370.85" width="11.09" height="11.09" fill="#fff"/>
<rect x="417.33" y="370.85" width="11.09" height="11.09" fill="#fff"/>
<rect x="428.42" y="370.85" width="11.09" height="11.09" fill="#fff"/>
<rect x="439.51" y="370.85" width="11.09" height="11.09" fill="#f01b20"/>
<rect x="450.6" y="370.85" width="11.09" height="11.09" fill="#f01b20"/>
<rect x="461.69" y="370.85" width="11.09" height="11.09" fill="#42ba48"/>
<rect x="472.78" y="370.85" width="11.09" height="11.09" fill="#fff"/>
<rect x="483.87" y="370.85" width="11.09" height="11.09" fill="#fff"/>
<rect x="494.96" y="370.85" width="11.09" height="11.09" fill="#fff"/>
<rect x="506.05" y="370.85" width="11.09" height="11.09" fill="#3c85cc"/>
<rect x="517.14" y="370.85" width="11.09" height="11.09" fill="#fff"/>
<rect x="339.7" y="381.94" width="11.09" height="11.09" fill="#fff"/>
<rect x="350.79" y="381.94" width="11.09" height="11.09" fill="#fff"/>
<rect x="361.88" y="381.94" width="11.09" height="11.09" fill="#fff"/>
<rect x="372.97" y="381.94" width="11.09" height="11.09" fill="#fff"/>
<rect x="384.06" y="381.94" width="11.09" height="11.09" fill="#fff"/>
<rect x="395.15" y="381.94" width="11.09" height="11.09" fill="#fff"/>
<rect x="406.24" y="381.94" width="11.09" height="11.09" fill="#fff"/>
<rect x="417.33" y="381.94" width="11.09" height="11.09" fill="#fff"/>
<rect x="428.42" y="381.94" width="11.09" height="11.09" fill="#f01b20"/>
<rect x="439.51" y="381.94" width="11.09" height="11.09" fill="#f01b20"/>
<rect x="450.6" y="381.94" width="11.09" height="11.09" fill="#42ba48"/>
<rect x="461.69" y="381.94" width="11.09" height="11.09" fill="#3c85cc"/>
<rect x="472.78" y="381.94" width="11.09" height="11.09" fill="#fff"/>
<rect x="483.87" y="381.94" width="11.09" height="11.09" fill="#fff"/>
<rect x="494.96" y="381.94" width="11.09" height="11.09" fill="#fff"/>
<rect x="506.05" y="381.94" width="11.09" height="11.09" fill="#3c85cc"/>
<rect x="517.14" y="381.94" width="11.09" height="11.09" fill="#fff"/>
<rect x="339.7" y="393.03" width="11.09" height="11.09" fill="#fff"/>
<rect x="350.79" y="393.03" width="11.09" height="11.09" fill="#fff"/>
<rect x="361.88" y="393.03" width="11.09" height="11.09" fill="#fff"/>
<rect x="372.97" y="393.03" width="11.09" height="11.09" fill="#fff"/>
<rect x="384.06" y="393.03" width="11.09" height="11.09" fill="#fff"/>
<rect x="395.15" y="393.03" width="11.09" height="11.09" fill="#fff"/>
<rect x="406.24" y="393.03" width="11.09" height="11.09" fill="#fff"/>
<rect x="417.33" y="393.03" width="11.09" height="11.09" fill="#f01b20"/>
<rect x="428.42" y="393.03" width="11.09" height="11.09" fill="#f01b20"/>
<rect x="439.51" y="393.03" width="11.09" height="11.09" fill="#42ba48"/>
<rect x="450.6" y="393.03" width="11.09" height="11.09" fill="#3c85cc"/>
<rect x="461.69" y="393.03" width="11.09" height="11.09" fill="#fff"/>
<rect x="472.78" y="393.03" width="11.09" height="11.09" fill="#fff"/>
<rect x="483.87" y="393.03" width="11.09" height="11.09" fill="#fff"/>
<rect x="494.96" y="393.03" width="11.09" height="11.09" fill="#fff"/>
<rect x="506.05" y="393.03" width="11.09" height="11.09" fill="#3c85cc"/>
<rect x="517.14" y="393.03" width="11.09" height="11.09" fill="#3c85cc"/>
<rect x="339.7" y="404.12" width="11.09" height="11.09" fill="#fff"/>
<rect x="350.79" y="404.12" width="11.09" height="11.09" fill="#fff"/>
<rect x="361.88" y="404.12" width="11.09" height="11.09" fill="#fff"/>
<rect x="372.97" y="404.12" width="11.09" height="11.09" fill="#fff"/>
<rect x="384.06" y="404.12" width="11.09" height="11.09" fill="#f01b20"/>
<rect x="395.15" y="404.12" width="11.09" height="11.09" fill="#fff"/>
<rect x="406.24" y="404.12" width="11.09" height="11.09" fill="#f01b20"/>
<rect x="417.33" y="404.12" width="11.09" height="11.09" fill="#f01b20"/>
<rect x="428.42" y="404.12" width="11.09" height="11.09" fill="#42ba48"/>
<rect x="439.51" y="404.12" width="11.09" height="11.09" fill="#3c85cc"/>
<rect x="450.6" y="404.12" width="11.09" height="11.09" fill="#3c85cc"/>
<rect x="461.69" y="404.12" width="11.09" height="11.09" fill="#3c85cc"/>
<rect x="472.78" y="404.12" width="11.09" height="11.09" fill="#fff"/>
<rect x="483.87" y="404.12" width="11.09" height="11.09" fill="#fff"/>
<rect x="494.96" y="404.12" width="11.09" height="11.09" fill="#fff"/>
<rect x="506.05" y="404.12" width="11.09" height="11.09" fill="#fff"/>
<rect x="517.14" y="404.12" width="11.09" height="11.09" fill="#fff"/>
<rect x="339.7" y="415.21" width="11.09" height="11.09" fill="#fff"/>
<rect x="350.79" y="415.21" width="11.09" height="11.09" fill="#fff"/>
<rect x="361.88" y="415.21" width="11.09" height="11.09" fill="#fff"/>
<rect x="372.97" y="415.21" width="11.09" height="11.09" fill="#fff"/>
<rect x="384.06" y="415.21" width="11.09" height="11.09" fill="#fff"/>
<rect x="395.15" y="415.21" width="11.09" height="11.09" fill="#f01b20"/>
<rect x="406.24" y="415.21" width="11.09" height="11.09" fill="#f01b20"/>
<rect x="417.33" y="415.21" width="11.09" height="11.09" fill="#42ba48"/>
<rect x="428.42" y="415.21" width="11.09" height="11.09" fill="#3c85cc"/>
<rect x="439.51" y="415.21" width="11.09" height="11.09" fill="#3c85cc"/>
<rect x="450.6" y="415.21" width="11.09" height="11.09" fill="#3c85cc"/>
<rect x="461.69" y="415.21" width="11.09" height="11.09" fill="#fff"/>
<rect x="472.78" y="415.21" width="11.09" height="11.09" fill="#fff"/>
<rect x="483.87" y="415.21" width="11.09" height="11.09" fill="#fff"/>
<rect x="494.96" y="415.21" width="11.09" height="11.09" fill="#fff"/>
<rect x="506.05" y="415.21" width="11.09" height="11.09" fill="#fff"/>
<rect x="517.14" y="415.21" width="11.09" height="11.09" fill="#fff"/>
<rect x="339.7" y="426.3" width="11.09" height="11.09" fill="#fff"/>
<rect x="350.79" y="426.3" width="11.09" height="11.09" fill="#fff"/>
<rect x="361.88" y="426.3" width="11.09" height="11.09" fill="#fff"/>
<rect x="372.97" y="426.3" width="11.09" height="11.09" fill="#fff"/>
<rect x="384.06" y="426.3" width="11.09" height="11.09" fill="#f01b20"/>
<rect x="395.15" y="426.3" width="11.09" height="11.09" fill="#f01b20"/>
<rect x="406.24" y="426.3" width="11.09" height="11.09" fill="#42ba48"/>
<rect x="417.33" y="426.3" width="11.09" height="11.09" fill="#3c85cc"/>
<rect x="428.42" y="426.3" width="11.09" height="11.09" fill="#fff"/>
<rect x="439.51" y="426.3" width="11.09" height="11.09" fill="#3c85cc"/>
<rect x="450.6" y="426.3" width="11.09" height="11.09" fill="#fff"/>
<rect x="461.69" y="426.3" width="11.09" height="11.09" fill="#fff"/>
<rect x="472.78" y="426.3" width="11.09" height="11.09" fill="#fff"/>
<rect x="483.87" y="426.3" width="11.09" height="11.09" fill="#fff"/>
<rect x="494.96" y="426.3" width="11.09" height="11.09" fill="#fff"/>
<rect x="506.05" y="426.3" width="11.09" height="11.09" fill="#fff"/>
<rect x="517.14" y="426.3" width="11.09" height="11.09" fill="#fff"/>
<rect x="339.7" y="437.39" width="11.09" height="11.09" fill="#fff"/>
<rect x="350.79" y="437.39" width="11.09" height="11.09" fill="#fff"/>
<rect x="361.88" y="437.39" width="11.09" height="11.09" fill="#fff"/>
<rect x="372.97" y="437.39" width="11.09" height="11.09" fill="#f01b20"/>
<rect x="384.06" y="437.39" width="11.09" height="11.09" fill="#f01b20"/>
<rect x="395.15" y="437.39" width="11.09" height="11.09" fill="#42ba48"/>
<rect x="406.24" y="437.39" width="11.09" height="11.09" fill="#fff"/>
<rect x="417.33" y="437.39" width="11.09" height="11.09" fill="#3c85cc"/>
<rect x="428.42" y="437.39" width="11.09" height="11.09" fill="#3c85cc"/>
<rect x="439.51" y="437.39" width="11.09" height="11.09" fill="#3c85cc"/>
<rect x="450.6" y="437.39" width="11.09" height="11.09" fill="#3c85cc"/>
<rect x="461.69" y="437.39" width="11.09" height="11.09" fill="#fff"/>
<rect x="472.78" y="437.39" width="11.09" height="11.09" fill="#fff"/>
<rect x="483.87" y="437.39" width="11.09" height="11.09" fill="#fff"/>
<rect x="494.96" y="437.39" width="11.09" height="11.09" fill="#fff"/>
<rect x="506.05" y="437.39" width="11.09" height="11.09" fill="#fff"/>
<rect x="517.14" y="437.39" width="11.09" height="11.09" fill="#fff"/>
<rect x="339.7" y="448.48" width="11.09" height="11.09" fill="#fff"/>
<rect x="350.79" y="448.48" width="11.09" height="11.09" fill="#fff"/>
<rect x="361.88" y="448.48" width="11.09" height="11.09" fill="#f01b20"/>
<rect x="372.97" y="448.48" width="11.09" height="11.09" fill="#f01b20"/>
<rect x="384.06" y="448.48" width="11.09" height="11.09" fill="#42ba48"/>
<rect x="395.15" y="448.48" width="11.09" height="11.09" fill="#3c85cc"/>
<rect x="406.24" y="448.48" width="11.09" height="11.09" fill="#fff"/>
<rect x="417.33" y="448.48" width="11.09" height="11.09" fill="#fff"/>
<rect x="428.42" y="448.48" width="11.09" height="11.09" fill="#3c85cc"/>
<rect x="439.51" y="448.48" width="11.09" height="11.09" fill="#fff"/>
<rect x="450.6" y="448.48" width="11.09" height="11.09" fill="#fff"/>
<rect x="461.69" y="448.48" width="11.09" height="11.09" fill="#fff"/>
<rect x="472.78" y="448.48" width="11.09" height="11.09" fill="#fff"/>
<rect x="483.87" y="448.48" width="11.09" height="11.09" fill="#fff"/>
<rect x="494.96" y="448.48" width="11.09" height="11.09" fill="#fff"/>
<rect x="506.05" y="448.48" width="11.09" height="11.09" fill="#fff"/>
<rect x="517.14" y="448.48" width="11.09" height="11.09" fill="#fff"/>
<rect x="339.7" y="459.57" width="11.09" height="11.09" fill="#f01b20"/>
<rect x="350.79" y="459.57" width="11.09" height="11.09" fill="#f01b20"/>
<rect x="361.88" y="459.57" width="11.09" height="11.09" fill="#f01b20"/>
<rect x="372.97" y="459.57" width="11.09" height="11.09" fill="#42ba48"/>
<rect x="384.06" y="459.57" width="11.09" height="11.09" fill="#3c85cc"/>
<rect x="395.15" y="459.57" width="11.09" height="11.09" fill="#fff"/>
<rect x="406.24" y="459.57" width="11.09" height="11.09" fill="#3c85cc"/>
<rect x="417.33" y="459.57" width="11.09" height="11.09" fill="#fff"/>
<rect x="428.42" y="459.57" width="11.09" height="11.09" fill="#3c85cc"/>
<rect x="439.51" y="459.57" width="11.09" height="11.09" fill="#fff"/>
<rect x="450.6" y="459.57" width="11.09" height="11.09" fill="#fff"/>
<rect x="461.69" y="459.57" width="11.09" height="11.09" fill="#fff"/>
<rect x="472.78" y="459.57" width="11.09" height="11.09" fill="#fff"/>
<rect x="483.87" y="459.57" width="11.09" height="11.09" fill="#fff"/>
<rect x="494.96" y="459.57" width="11.09" height="11.09" fill="#fff"/>
<rect x="506.05" y="459.57" width="11.09" height="11.09" fill="#fff"/>
<rect x="517.14" y="459.57" width="11.09" height="11.09" fill="#fff"/>
<rect x="339.7" y="470.66" width="11.09" height="11.09" fill="#f01b20"/>
<rect x="350.79" y="470.66" width="11.09" height="11.09" fill="#fff"/>
<rect x="361.88" y="470.66" width="11.09" height="11.09" fill="#42ba48"/>
<rect x="372.97" y="470.66" width="11.09" height="11.09" fill="#3c85cc"/>
<rect x="384.06" y="470.66" width="11.09" height="11.09" fill="#fff"/>
<rect x="395.15" y="470.66" width="11.09" height="11.09" fill="#fff"/>
<rect x="406.24" y="470.66" width="11.09" height="11.09" fill="#3c85cc"/>
<rect x="417.33" y="470.66" width="11.09" height="11.09" fill="#fff"/>
<rect x="428.42" y="470.66" width="11.09" height="11.09" fill="#fff"/>
<rect x="439.51" y="470.66" width="11.09" height="11.09" fill="#fff"/>
<rect x="450.6" y="470.66" width="11.09" height="11.09" fill="#fff"/>
<rect x="461.69" y="470.66" width="11.09" height="11.09" fill="#fff"/>
<rect x="472.78" y="470.66" width="11.09" height="11.09" fill="#fff"/>
<rect x="483.87" y="470.66" width="11.09" height="11.09" fill="#fff"/>
<rect x="494.96" y="470.66" width="11.09" height="11.09" fill="#fff"/>
<rect x="506.05" y="470.66" width="11.09" height="11.09" fill="#fff"/>
<rect x="517.14" y="470.66" width="11.09" height="11.09" fill="#fff"/>
<rect x="339.7" y="481.75" width="11.09" height="11.09" fill="#f01b20"/>
<rect x="350.79" y="481.75" width="11.09" height="11.09" fill="#42ba48"/>
<rect x="361.88" y="481.75" width="11.09" height="11.09" fill="#fff"/>
<rect x="372.97" y="481.75" width="11.09" height="11.09" fill="#fff"/>
<rect x="384.06" y="481.75" width="11.09" height="11.09" fill="#3c85cc"/>
<rect x="395.15" y="481.75" width="11.09" height="11.09" fill="#3c85cc"/>
<rect x="406.24" y="481.75" width="11.09" height="11.09" fill="#fff"/>
<rect x="417.33" y="481.75" width="11.09" height="11.09" fill="#fff"/>
<rect x="428.42" y="481.75" width="11.09" height="11.09" fill="#fff"/>
<rect x="439.51" y="481.75" width="11.09" height="11.09" fill="#fff"/>
<rect x="450.6" y="481.75" width="11.09" height="11.09" fill="#fff"/>
<rect x="461.69" y="481.75" width="11.09" height="11.09" fill="#fff"/>
<rect x="472.78" y="481.75" width="11.09" height="11.09" fill="#fff"/>
<rect x="483.87" y="481.75" width="11.09" height="11.09" fill="#fff"/>
<rect x="494.96" y="481.75" width="11.09" height="11.09" fill="#fff"/>
<rect x="506.05" y="481.75" width="11.09" height="11.09" fill="#fff"/>
<rect x="517.14" y="481.75" width="11.09" height="11.09" fill="#fff"/>
<rect x="339.7" y="492.84" width="11.09" height="11.09" fill="#42ba48"/>
<rect x="350.79" y="492.84" width="11.09" height="11.09" fill="#fff"/>
<rect x="361.88" y="492.84" width="11.09" height="11.09" fill="#3c85cc"/>
<rect x="372.97" y="492.84" width="11.09" height="11.09" fill="#3c85cc"/>
<rect x="384.06" y="492.84" width="11.09" height="11.09" fill="#fff"/>
<rect x="395.15" y="492.84" width="11.09" height="11.09" fill="#fff"/>
<rect x="406.24" y="492.84" width="11.09" height="11.09" fill="#fff"/>
<rect x="417.33" y="492.84" width="11.09" height="11.09" fill="#fff"/>
<rect x="428.42" y="492.84" width="11.09" height="11.09" fill="#fff"/>
<rect x="439.51" y="492.84" width="11.09" height="11.09" fill="#fff"/>
<rect x="450.6" y="492.84" width="11.09" height="11.09" fill="#fff"/>
<rect x="461.69" y="492.84" width="11.09" height="11.09" fill="#fff"/>
<rect x="472.78" y="492.84" width="11.09" height="11.09" fill="#fff"/>
<rect x="483.87" y="492.84" width="11.09" height="11.09" fill="#fff"/>
<rect x="494.96" y="492.84" width="11.09" height="11.09" fill="#fff"/>
<rect x="506.05" y="492.84" width="11.09" height="11.09" fill="#fff"/>
<rect x="517.14" y="492.84" width="11.09" height="11.09" fill="#fff"/>
<line x1="339.7" y1="315.4" x2="339.7" y2="503.93" stroke="#111" stroke-width="1.5"/>
<line x1="339.7" y1="315.4" x2="528.23" y2="315.4" stroke="#111" stroke-width="1.5"/>
<line x1="350.79" y1="315.4" x2="350.79" y2="503.93" stroke="#111" stroke-width="1.5"/>
<line x1="339.7" y1="326.49" x2="528.23" y2="326.49" stroke="#111" stroke-width="1.5"/>
<line x1="361.88" y1="315.4" x2="361.88" y2="503.93" stroke="#111" stroke-width="1.5"/>
<line x1="339.7" y1="337.58" x2="528.23" y2="337.58" stroke="#111" stroke-width="1.5"/>
<line x1="372.97" y1="315.4" x2="372.97" y2="503.93" stroke="#111" stroke-width="1.5"/>
<line x1="339.7" y1="348.67" x2="528.23" y2="348.67" stroke="#111" stroke-width="1.5"/>
<line x1="384.06" y1="315.4" x2="384.06" y2="503.93" stroke="#111" stroke-width="1.5"/>
<line x1="339.7" y1="359.76" x2="528.23" y2="359.76" stroke="#111" stroke-width="1.5"/>
<line x1="395.15" y1="315.4" x2="395.15" y2="503.93" stroke="#111" stroke-width="1.5"/>
<line x1="339.7" y1="370.85" x2="528.23" y2="370.85" stroke="#111" stroke-width="1.5"/>
<line x1="406.24" y1="315.4" x2="406.24" y2="503.93" stroke="#111" stroke-width="1.5"/>
<line x1="339.7" y1="381.94" x2="528.23" y2="381.94" stroke="#111" stroke-width="1.5"/>
<line x1="417.33" y1="315.4" x2="417.33" y2="503.93" stroke="#111" stroke-width="1.5"/>
<line x1="339.7" y1="393.03" x2="528.23" y2="393.03" stroke="#111" stroke-width="1.5"/>
<line x1="428.42" y1="315.4" x2="428.42" y2="503.93" stroke="#111" stroke-width="1.5"/>
<line x1="339.7" y1="404.12" x2="528.23" y2="404.12" stroke="#111" stroke-width="1.5"/>
<line x1="439.51" y1="315.4" x2="439.51" y2="503.93" stroke="#111" stroke-width="1.5"/>
<line x1="339.7" y1="415.21" x2="528.23" y2="415.21" stroke="#111" stroke-width="1.5"/>
<line x1="450.6" y1="315.4" x2="450.6" y2="503.93" stroke="#111" stroke-width="1.5"/>
<line x1="339.7" y1="426.3" x2="528.23" y2="426.3" stroke="#111" stroke-width="1.5"/>
<line x1="461.69" y1="315.4" x2="461.69" y2="503.93" stroke="#111" stroke-width="1.5"/>
<line x1="339.7" y1="437.39" x2="528.23" y2="437.39" stroke="#111" stroke-width="1.5"/>
<line x1="472.78" y1="315.4" x2="472.78" y2="503.93" stroke="#111" stroke-width="1.5"/>
<line x1="339.7" y1="448.48" x2="528.23" y2="448.48" stroke="#111" stroke-width="1.5"/>
<line x1="483.87" y1="315.4" x2="483.87" y2="503.93" stroke="#111" stroke-width="1.5"/>
<line x1="339.7" y1="459.57" x2="528.23" y2="459.57" stroke="#111" stroke-width="1.5"/>
<line x1="494.96" y1="315.4" x2="494.96" y2="503.93" stroke="#111" stroke-width="1.5"/>
<line x1="339.7" y1="470.66" x2="528.23" y2="470.66" stroke="#111" stroke-width="1.5"/>
<line x1="506.05" y1="315.4" x2="506.05" y2="503.93" stroke="#111" stroke-width="1.5"/>
<line x1="339.7" y1="481.75" x2="528.23" y2="481.75" stroke="#111" stroke-width="1.5"/>
<line x1="517.14" y1="315.4" x2="517.14" y2="503.93" stroke="#111" stroke-width="1.5"/>
<line x1="339.7" y1="492.84" x2="528.23" y2="492.84" stroke="#111" stroke-width="1.5"/>
<line x1="528.23" y1="315.4" x2="528.23" y2="503.93" stroke="#111" stroke-width="1.5"/>
<line x1="339.7" y1="503.93" x2="528.23" y2="503.93" stroke="#111" stroke-width="1.5"/>
<text transform="translate(522.68,323.84) scale(1,1.03)" font-size="6.1" text-anchor="middle" font-weight="normal" fill="#fff" fill-opacity="0.88">10</text>
<text transform="translate(500.5,334.93) scale(1,1.03)" font-size="6.1" text-anchor="middle" font-weight="normal" fill="#fff" fill-opacity="0.88">50</text>
<text transform="translate(511.59,334.93) scale(1,1.03)" font-size="6.1" text-anchor="middle" font-weight="normal" fill="#fff" fill-opacity="0.88">25</text>
<text transform="translate(522.68,334.93) scale(1,1.03)" font-size="6.1" text-anchor="middle" font-weight="normal" fill="#fff" fill-opacity="0.88">30</text>
<text transform="translate(456.15,346.02) scale(1,1.03)" font-size="6.1" text-anchor="middle" font-weight="normal" fill="#fff" fill-opacity="0.88">3</text>
<text transform="translate(489.42,346.02) scale(1,1.03)" font-size="6.1" text-anchor="middle" font-weight="normal" fill="#fff" fill-opacity="0.88">22</text>
<text transform="translate(511.59,346.02) scale(1,1.03)" font-size="6.1" text-anchor="middle" font-weight="normal" fill="#fff" fill-opacity="0.88">33</text>
<text transform="translate(522.68,346.02) scale(1,1.03)" font-size="6.1" text-anchor="middle" font-weight="normal" fill="#fff" fill-opacity="0.88">20</text>
<text transform="translate(478.32,357.11) scale(1,1.03)" font-size="6.1" text-anchor="middle" font-weight="normal" fill="#fff" fill-opacity="0.88">100</text>
<text transform="translate(489.42,357.11) scale(1,1.03)" font-size="6.1" text-anchor="middle" font-weight="normal" fill="#fff" fill-opacity="0.88">56</text>
<text transform="translate(500.5,357.11) scale(1,1.03)" font-size="6.1" text-anchor="middle" font-weight="normal" fill="#fff" fill-opacity="0.88">50</text>
<text transform="translate(511.59,357.11) scale(1,1.03)" font-size="6.1" text-anchor="middle" font-weight="normal" fill="#fff" fill-opacity="0.88">17</text>
<text transform="translate(456.15,368.2) scale(1,1.03)" font-size="6.1" text-anchor="middle" font-weight="normal" fill="#fff" fill-opacity="0.88">3</text>
<text transform="translate(467.24,368.2) scale(1,1.03)" font-size="6.1" text-anchor="middle" font-weight="normal" fill="#fff" fill-opacity="0.88">17</text>
<text transform="translate(489.42,368.2) scale(1,1.03)" font-size="6.1" text-anchor="middle" font-weight="normal" fill="#fff" fill-opacity="0.88">22</text>
<text transform="translate(522.68,368.2) scale(1,1.03)" font-size="6.1" text-anchor="middle" font-weight="normal" fill="#fff" fill-opacity="0.88">30</text>
<text transform="translate(445.06,379.29) scale(1,1.03)" font-size="6.1" text-anchor="middle" font-weight="normal" fill="#fff" fill-opacity="0.88">5</text>
<text transform="translate(456.15,379.29) scale(1,1.03)" font-size="6.1" text-anchor="middle" font-weight="normal" fill="#fff" fill-opacity="0.88">6</text>
<text transform="translate(467.24,379.29) scale(1,1.03)" font-size="6.1" text-anchor="middle" font-weight="normal" fill="#fff" fill-opacity="0.88">33</text>
<text transform="translate(511.59,379.29) scale(1,1.03)" font-size="6.1" text-anchor="middle" font-weight="normal" fill="#fff" fill-opacity="0.88">8</text>
<text transform="translate(433.96,390.38) scale(1,1.03)" font-size="6.1" text-anchor="middle" font-weight="normal" fill="#fff" fill-opacity="0.88">4</text>
<text transform="translate(445.06,390.38) scale(1,1.03)" font-size="6.1" text-anchor="middle" font-weight="normal" fill="#fff" fill-opacity="0.88">10</text>
<text transform="translate(456.15,390.38) scale(1,1.03)" font-size="6.1" text-anchor="middle" font-weight="normal" fill="#fff" fill-opacity="0.88">68</text>
<text transform="translate(467.24,390.38) scale(1,1.03)" font-size="6.1" text-anchor="middle" font-weight="normal" fill="#fff" fill-opacity="0.88">33</text>
<text transform="translate(511.59,390.38) scale(1,1.03)" font-size="6.1" text-anchor="middle" font-weight="normal" fill="#fff" fill-opacity="0.88">8</text>
<text transform="translate(422.88,401.47) scale(1,1.03)" font-size="6.1" text-anchor="middle" font-weight="normal" fill="#fff" fill-opacity="0.88">10</text>
<text transform="translate(433.96,401.47) scale(1,1.03)" font-size="6.1" text-anchor="middle" font-weight="normal" fill="#fff" fill-opacity="0.88">21</text>
<text transform="translate(445.06,401.47) scale(1,1.03)" font-size="6.1" text-anchor="middle" font-weight="normal" fill="#fff" fill-opacity="0.88">45</text>
<text transform="translate(456.15,401.47) scale(1,1.03)" font-size="6.1" text-anchor="middle" font-weight="normal" fill="#fff" fill-opacity="0.88">9</text>
<text transform="translate(511.59,401.47) scale(1,1.03)" font-size="6.1" text-anchor="middle" font-weight="normal" fill="#fff" fill-opacity="0.88">8</text>
<text transform="translate(522.68,401.47) scale(1,1.03)" font-size="6.1" text-anchor="middle" font-weight="normal" fill="#fff" fill-opacity="0.88">10</text>
<text transform="translate(389.61,412.56) scale(1,1.03)" font-size="6.1" text-anchor="middle" font-weight="normal" fill="#fff" fill-opacity="0.88">3</text>
<text transform="translate(411.79,412.56) scale(1,1.03)" font-size="6.1" text-anchor="middle" font-weight="normal" fill="#fff" fill-opacity="0.88">10</text>
<text transform="translate(422.88,412.56) scale(1,1.03)" font-size="6.1" text-anchor="middle" font-weight="normal" fill="#fff" fill-opacity="0.88">21</text>
<text transform="translate(433.96,412.56) scale(1,1.03)" font-size="6.1" text-anchor="middle" font-weight="normal" fill="#fff" fill-opacity="0.88">50</text>
<text transform="translate(445.06,412.56) scale(1,1.03)" font-size="6.1" text-anchor="middle" font-weight="normal" fill="#fff" fill-opacity="0.88">20</text>
<text transform="translate(456.15,412.56) scale(1,1.03)" font-size="6.1" text-anchor="middle" font-weight="normal" fill="#fff" fill-opacity="0.88">3</text>
<text transform="translate(467.24,412.56) scale(1,1.03)" font-size="6.1" text-anchor="middle" font-weight="normal" fill="#fff" fill-opacity="0.88">17</text>
<text transform="translate(400.69,423.65) scale(1,1.03)" font-size="6.1" text-anchor="middle" font-weight="normal" fill="#fff" fill-opacity="0.88">2</text>
<text transform="translate(411.79,423.65) scale(1,1.03)" font-size="6.1" text-anchor="middle" font-weight="normal" fill="#fff" fill-opacity="0.88">10</text>
<text transform="translate(422.88,423.65) scale(1,1.03)" font-size="6.1" text-anchor="middle" font-weight="normal" fill="#fff" fill-opacity="0.88">41</text>
<text transform="translate(433.96,423.65) scale(1,1.03)" font-size="6.1" text-anchor="middle" font-weight="normal" fill="#fff" fill-opacity="0.88">8</text>
<text transform="translate(445.06,423.65) scale(1,1.03)" font-size="6.1" text-anchor="middle" font-weight="normal" fill="#fff" fill-opacity="0.88">5</text>
<text transform="translate(456.15,423.65) scale(1,1.03)" font-size="6.1" text-anchor="middle" font-weight="normal" fill="#fff" fill-opacity="0.88">6</text>
<text transform="translate(389.61,434.74) scale(1,1.03)" font-size="6.1" text-anchor="middle" font-weight="normal" fill="#fff" fill-opacity="0.88">3</text>
<text transform="translate(400.69,434.74) scale(1,1.03)" font-size="6.1" text-anchor="middle" font-weight="normal" fill="#fff" fill-opacity="0.88">4</text>
<text transform="translate(411.79,434.74) scale(1,1.03)" font-size="6.1" text-anchor="middle" font-weight="normal" fill="#fff" fill-opacity="0.88">50</text>
<text transform="translate(422.88,434.74) scale(1,1.03)" font-size="6.1" text-anchor="middle" font-weight="normal" fill="#fff" fill-opacity="0.88">24</text>
<text transform="translate(445.06,434.74) scale(1,1.03)" font-size="6.1" text-anchor="middle" font-weight="normal" fill="#fff" fill-opacity="0.88">10</text>
<text transform="translate(378.51,445.83) scale(1,1.03)" font-size="6.1" text-anchor="middle" font-weight="normal" fill="#fff" fill-opacity="0.88">10</text>
<text transform="translate(389.61,445.83) scale(1,1.03)" font-size="6.1" text-anchor="middle" font-weight="normal" fill="#fff" fill-opacity="0.88">6</text>
<text transform="translate(400.69,445.83) scale(1,1.03)" font-size="6.1" text-anchor="middle" font-weight="normal" fill="#fff" fill-opacity="0.88">86</text>
<text transform="translate(422.88,445.83) scale(1,1.03)" font-size="6.1" text-anchor="middle" font-weight="normal" fill="#fff" fill-opacity="0.88">3</text>
<text transform="translate(433.96,445.83) scale(1,1.03)" font-size="6.1" text-anchor="middle" font-weight="normal" fill="#fff" fill-opacity="0.88">8</text>
<text transform="translate(445.06,445.83) scale(1,1.03)" font-size="6.1" text-anchor="middle" font-weight="normal" fill="#fff" fill-opacity="0.88">5</text>
<text transform="translate(456.15,445.83) scale(1,1.03)" font-size="6.1" text-anchor="middle" font-weight="normal" fill="#fff" fill-opacity="0.88">3</text>
<text transform="translate(367.43,456.92) scale(1,1.03)" font-size="6.1" text-anchor="middle" font-weight="normal" fill="#fff" fill-opacity="0.88">2</text>
<text transform="translate(378.51,456.92) scale(1,1.03)" font-size="6.1" text-anchor="middle" font-weight="normal" fill="#fff" fill-opacity="0.88">7</text>
<text transform="translate(389.61,456.92) scale(1,1.03)" font-size="6.1" text-anchor="middle" font-weight="normal" fill="#fff" fill-opacity="0.88">79</text>
<text transform="translate(400.69,456.92) scale(1,1.03)" font-size="6.1" text-anchor="middle" font-weight="normal" fill="#fff" fill-opacity="0.88">6</text>
<text transform="translate(433.96,456.92) scale(1,1.03)" font-size="6.1" text-anchor="middle" font-weight="normal" fill="#fff" fill-opacity="0.88">4</text>
<text transform="translate(345.25,468.01) scale(1,1.03)" font-size="6.1" text-anchor="middle" font-weight="normal" fill="#fff" fill-opacity="0.88">4</text>
<text transform="translate(356.33,468.01) scale(1,1.03)" font-size="6.1" text-anchor="middle" font-weight="normal" fill="#fff" fill-opacity="0.88">6</text>
<text transform="translate(367.43,468.01) scale(1,1.03)" font-size="6.1" text-anchor="middle" font-weight="normal" fill="#fff" fill-opacity="0.88">6</text>
<text transform="translate(378.51,468.01) scale(1,1.03)" font-size="6.1" text-anchor="middle" font-weight="normal" fill="#fff" fill-opacity="0.88">66</text>
<text transform="translate(389.61,468.01) scale(1,1.03)" font-size="6.1" text-anchor="middle" font-weight="normal" fill="#fff" fill-opacity="0.88">3</text>
<text transform="translate(411.79,468.01) scale(1,1.03)" font-size="6.1" text-anchor="middle" font-weight="normal" fill="#fff" fill-opacity="0.88">20</text>
<text transform="translate(433.96,468.01) scale(1,1.03)" font-size="6.1" text-anchor="middle" font-weight="normal" fill="#fff" fill-opacity="0.88">4</text>
<text transform="translate(345.25,479.1) scale(1,1.03)" font-size="6.1" text-anchor="middle" font-weight="normal" fill="#fff" fill-opacity="0.88">9</text>
<text transform="translate(367.43,479.1) scale(1,1.03)" font-size="6.1" text-anchor="middle" font-weight="normal" fill="#fff" fill-opacity="0.88">55</text>
<text transform="translate(378.51,479.1) scale(1,1.03)" font-size="6.1" text-anchor="middle" font-weight="normal" fill="#fff" fill-opacity="0.88">3</text>
<text transform="translate(411.79,479.1) scale(1,1.03)" font-size="6.1" text-anchor="middle" font-weight="normal" fill="#fff" fill-opacity="0.88">10</text>
<text transform="translate(345.25,490.19) scale(1,1.03)" font-size="6.1" text-anchor="middle" font-weight="normal" fill="#fff" fill-opacity="0.88">6</text>
<text transform="translate(356.33,490.19) scale(1,1.03)" font-size="6.1" text-anchor="middle" font-weight="normal" fill="#fff" fill-opacity="0.88">94</text>
<text transform="translate(389.61,490.19) scale(1,1.03)" font-size="6.1" text-anchor="middle" font-weight="normal" fill="#fff" fill-opacity="0.88">6</text>
<text transform="translate(400.69,490.19) scale(1,1.03)" font-size="6.1" text-anchor="middle" font-weight="normal" fill="#fff" fill-opacity="0.88">2</text>
<text transform="translate(345.25,501.28) scale(1,1.03)" font-size="6.1" text-anchor="middle" font-weight="normal" fill="#fff" fill-opacity="0.88">82</text>
<text transform="translate(367.43,501.28) scale(1,1.03)" font-size="6.1" text-anchor="middle" font-weight="normal" fill="#fff" fill-opacity="0.88">38</text>
<text transform="translate(378.51,501.28) scale(1,1.03)" font-size="6.1" text-anchor="middle" font-weight="normal" fill="#fff" fill-opacity="0.88">14</text>
<text transform="translate(333.9,324.19) scale(1,1.03)" font-size="9.0" text-anchor="end" fill="#333333" stroke="#333333" stroke-width="0.25">100</text>
<text transform="translate(333.9,335.28) scale(1,1.03)" font-size="9.0" text-anchor="end" fill="#333333" stroke="#333333" stroke-width="0.25">99</text>
<text transform="translate(333.9,346.38) scale(1,1.03)" font-size="9.0" text-anchor="end" fill="#333333" stroke="#333333" stroke-width="0.25">98</text>
<text transform="translate(333.9,357.46) scale(1,1.03)" font-size="9.0" text-anchor="end" fill="#333333" stroke="#333333" stroke-width="0.25">97</text>
<text transform="translate(333.9,368.56) scale(1,1.03)" font-size="9.0" text-anchor="end" fill="#333333" stroke="#333333" stroke-width="0.25">96</text>
<text transform="translate(333.9,379.64) scale(1,1.03)" font-size="9.0" text-anchor="end" fill="#333333" stroke="#333333" stroke-width="0.25">95</text>
<text transform="translate(333.9,390.73) scale(1,1.03)" font-size="9.0" text-anchor="end" fill="#333333" stroke="#333333" stroke-width="0.25">90–94</text>
<text transform="translate(333.9,401.82) scale(1,1.03)" font-size="9.0" text-anchor="end" fill="#333333" stroke="#333333" stroke-width="0.25">85–89</text>
<text transform="translate(333.9,412.92) scale(1,1.03)" font-size="9.0" text-anchor="end" fill="#333333" stroke="#333333" stroke-width="0.25">80–84</text>
<text transform="translate(333.9,424) scale(1,1.03)" font-size="9.0" text-anchor="end" fill="#333333" stroke="#333333" stroke-width="0.25">75–79</text>
<text transform="translate(333.9,435.09) scale(1,1.03)" font-size="9.0" text-anchor="end" fill="#333333" stroke="#333333" stroke-width="0.25">70–74</text>
<text transform="translate(333.9,446.19) scale(1,1.03)" font-size="9.0" text-anchor="end" fill="#333333" stroke="#333333" stroke-width="0.25">60–69</text>
<text transform="translate(333.9,457.27) scale(1,1.03)" font-size="9.0" text-anchor="end" fill="#333333" stroke="#333333" stroke-width="0.25">50–59</text>
<text transform="translate(333.9,468.36) scale(1,1.03)" font-size="9.0" text-anchor="end" fill="#333333" stroke="#333333" stroke-width="0.25">40–49</text>
<text transform="translate(333.9,479.45) scale(1,1.03)" font-size="9.0" text-anchor="end" fill="#333333" stroke="#333333" stroke-width="0.25">30–39</text>
<text transform="translate(333.9,490.55) scale(1,1.03)" font-size="9.0" text-anchor="end" fill="#333333" stroke="#333333" stroke-width="0.25">20–29</text>
<text transform="translate(333.9,501.63) scale(1,1.03)" font-size="9.0" text-anchor="end" fill="#333333" stroke="#333333" stroke-width="0.25">0–19</text>
<text transform="translate(348.5,509.13) rotate(-90) scale(1,1.03)" font-size="9.0" text-anchor="end" fill="#333333" stroke="#333333" stroke-width="0.25">0–19</text>
<text transform="translate(359.58,509.13) rotate(-90) scale(1,1.03)" font-size="9.0" text-anchor="end" fill="#333333" stroke="#333333" stroke-width="0.25">20–29</text>
<text transform="translate(370.68,509.13) rotate(-90) scale(1,1.03)" font-size="9.0" text-anchor="end" fill="#333333" stroke="#333333" stroke-width="0.25">30–39</text>
<text transform="translate(381.76,509.13) rotate(-90) scale(1,1.03)" font-size="9.0" text-anchor="end" fill="#333333" stroke="#333333" stroke-width="0.25">40–49</text>
<text transform="translate(392.86,509.13) rotate(-90) scale(1,1.03)" font-size="9.0" text-anchor="end" fill="#333333" stroke="#333333" stroke-width="0.25">50–59</text>
<text transform="translate(403.94,509.13) rotate(-90) scale(1,1.03)" font-size="9.0" text-anchor="end" fill="#333333" stroke="#333333" stroke-width="0.25">60–69</text>
<text transform="translate(415.04,509.13) rotate(-90) scale(1,1.03)" font-size="9.0" text-anchor="end" fill="#333333" stroke="#333333" stroke-width="0.25">70–74</text>
<text transform="translate(426.12,509.13) rotate(-90) scale(1,1.03)" font-size="9.0" text-anchor="end" fill="#333333" stroke="#333333" stroke-width="0.25">75–79</text>
<text transform="translate(437.21,509.13) rotate(-90) scale(1,1.03)" font-size="9.0" text-anchor="end" fill="#333333" stroke="#333333" stroke-width="0.25">80–84</text>
<text transform="translate(448.31,509.13) rotate(-90) scale(1,1.03)" font-size="9.0" text-anchor="end" fill="#333333" stroke="#333333" stroke-width="0.25">85–89</text>
<text transform="translate(459.4,509.13) rotate(-90) scale(1,1.03)" font-size="9.0" text-anchor="end" fill="#333333" stroke="#333333" stroke-width="0.25">90–94</text>
<text transform="translate(470.49,509.13) rotate(-90) scale(1,1.03)" font-size="9.0" text-anchor="end" fill="#333333" stroke="#333333" stroke-width="0.25">95</text>
<text transform="translate(481.57,509.13) rotate(-90) scale(1,1.03)" font-size="9.0" text-anchor="end" fill="#333333" stroke="#333333" stroke-width="0.25">96</text>
<text transform="translate(492.67,509.13) rotate(-90) scale(1,1.03)" font-size="9.0" text-anchor="end" fill="#333333" stroke="#333333" stroke-width="0.25">97</text>
<text transform="translate(503.75,509.13) rotate(-90) scale(1,1.03)" font-size="9.0" text-anchor="end" fill="#333333" stroke="#333333" stroke-width="0.25">98</text>
<text transform="translate(514.85,509.13) rotate(-90) scale(1,1.03)" font-size="9.0" text-anchor="end" fill="#333333" stroke="#333333" stroke-width="0.25">99</text>
<text transform="translate(525.93,509.13) rotate(-90) scale(1,1.03)" font-size="9.0" text-anchor="end" fill="#333333" stroke="#333333" stroke-width="0.25">100</text>
<text transform="translate(433.97,543.9)" font-size="9.3" text-anchor="middle" font-weight="bold" fill="#000">CPRA category for CPRA (antigen)</text>
<text transform="translate(304.8,409.66) rotate(-90)" font-size="9.3" text-anchor="middle" font-weight="bold" fill="#000">CPRA category for CPRA (EP)</text>
<text transform="translate(4.2,17.8)" font-size="18" font-weight="bold" fill="#000">A</text>
<text transform="translate(282.1,17.8)" font-size="18" font-weight="bold" fill="#000">B</text>
<text transform="translate(4.8,294.3)" font-size="18" font-weight="bold" fill="#000">C</text>
<text transform="translate(282.1,294.3)" font-size="18" font-weight="bold" fill="#000">D</text>
</svg>
</body></html>
